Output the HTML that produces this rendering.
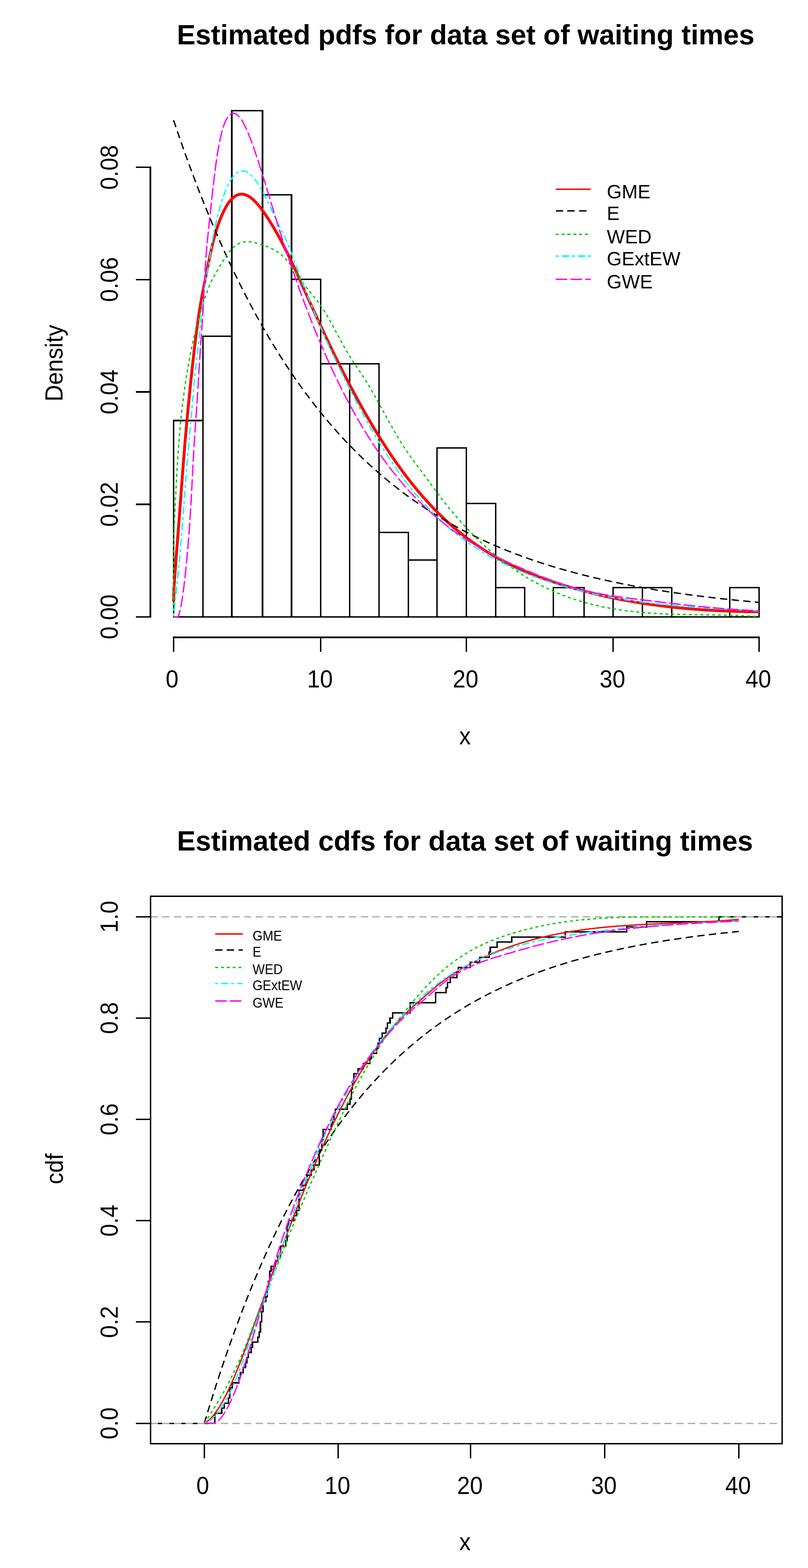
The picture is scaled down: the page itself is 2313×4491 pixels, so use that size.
<!DOCTYPE html>
<html><head><meta charset="utf-8"><title>Estimated pdfs and cdfs for data set of waiting times</title>
<style>html,body{margin:0;padding:0;background:#fff;} svg{display:block;}</style>
</head><body>
<svg width="2313" height="4491" viewBox="0 0 2313 4491">
<rect x="0" y="0" width="2313" height="4491" fill="#ffffff"/>
<text x="1333" y="127" font-family="Liberation Sans, Arial, sans-serif" font-weight="bold" font-size="80" text-anchor="middle" fill="#000">Estimated pdfs for data set of waiting times</text>
<path d="M497.0,1766.7 L497.0,1204.5 L580.6,1204.5 L580.6,1766.7 Z M580.6,1766.7 L580.6,963.0 L663.5,963.0 L663.5,1766.7 Z M663.5,1766.7 L663.5,317.0 L751.5,317.0 L751.5,1766.7 Z M751.5,1766.7 L751.5,558.2 L834.5,558.2 L834.5,1766.7 Z M834.5,1766.7 L834.5,800.0 L918.0,800.0 L918.0,1766.7 Z M918.0,1766.7 L918.0,1042.0 L1001.4,1042.0 L1001.4,1766.7 Z M1001.4,1766.7 L1001.4,1042.0 L1084.8,1042.0 L1084.8,1766.7 Z M1084.8,1766.7 L1084.8,1525.0 L1168.6,1525.0 L1168.6,1766.7 Z M1168.6,1766.7 L1168.6,1604.0 L1250.9,1604.0 L1250.9,1766.7 Z M1250.9,1766.7 L1250.9,1283.0 L1334.7,1283.0 L1334.7,1766.7 Z M1334.7,1766.7 L1334.7,1442.0 L1418.6,1442.0 L1418.6,1766.7 Z M1418.6,1766.7 L1418.6,1683.0 L1501.6,1683.0 L1501.6,1766.7 Z M1501.6,1766.7 L1501.6,1766.7 L1584.4,1766.7 L1584.4,1766.7 Z M1584.4,1766.7 L1584.4,1683.0 L1672.3,1683.0 L1672.3,1766.7 Z M1672.3,1766.7 L1672.3,1766.7 L1755.2,1766.7 L1755.2,1766.7 Z M1755.2,1766.7 L1755.2,1683.0 L1839.1,1683.0 L1839.1,1766.7 Z M1839.1,1766.7 L1839.1,1683.0 L1922.9,1683.0 L1922.9,1766.7 Z M1922.9,1766.7 L1922.9,1766.7 L2006.0,1766.7 L2006.0,1766.7 Z M2006.0,1766.7 L2006.0,1766.7 L2089.3,1766.7 L2089.3,1766.7 Z M2089.3,1766.7 L2089.3,1683.0 L2172.8,1683.0 L2172.8,1766.7 Z" fill="none" stroke="#000" stroke-width="4.18" stroke-linejoin="miter" shape-rendering="crispEdges"/>
<g fill="none" stroke="#000" stroke-width="4.18" stroke-linecap="square" shape-rendering="crispEdges"><path d="M430.5,1766.7 L430.5,479.4"/><path d="M391,1766.7 L430.5,1766.7"/><path d="M391,1444.5 L430.5,1444.5"/><path d="M391,1122.5 L430.5,1122.5"/><path d="M391,800.6 L430.5,800.6"/><path d="M391,479.4 L430.5,479.4"/><path d="M497.0,1825.5 L2172.8,1825.5"/><path d="M497.0,1825.5 L497.0,1865"/><path d="M918.0,1825.5 L918.0,1865"/><path d="M1334.7,1825.5 L1334.7,1865"/><path d="M1755.2,1825.5 L1755.2,1865"/><path d="M2172.8,1825.5 L2172.8,1865"/></g>
<g font-family="Liberation Sans, Arial, sans-serif" font-size="66" fill="#000"><text transform="translate(337,1766.7) rotate(-90) scale(1,1.07)" text-anchor="middle">0.00</text><text transform="translate(337,1444.5) rotate(-90) scale(1,1.07)" text-anchor="middle">0.02</text><text transform="translate(337,1122.5) rotate(-90) scale(1,1.07)" text-anchor="middle">0.04</text><text transform="translate(337,800.6) rotate(-90) scale(1,1.07)" text-anchor="middle">0.06</text><text transform="translate(337,479.4) rotate(-90) scale(1,1.07)" text-anchor="middle">0.08</text><text transform="translate(492.5,1969) scale(1,1.07)" text-anchor="middle">0</text><text transform="translate(916.0,1969) scale(1,1.07)" text-anchor="middle">10</text><text transform="translate(1332.7,1969) scale(1,1.07)" text-anchor="middle">20</text><text transform="translate(1753.2,1969) scale(1,1.07)" text-anchor="middle">30</text><text transform="translate(2170.8,1969) scale(1,1.07)" text-anchor="middle">40</text><text transform="translate(1331,2131.7) scale(1,1.07)" text-anchor="middle">x</text><text transform="translate(179,1040) rotate(-90) scale(1,1.07)" text-anchor="middle">Density</text></g>
<path d="M497.0,1723.3 L497.8,1685.2 L498.7,1673.2 L499.5,1661.3 L500.4,1649.7 L501.2,1638.2 L502.0,1627.0 L502.9,1615.8 L503.7,1604.8 L504.5,1593.9 L505.4,1583.1 L506.2,1572.3 L507.1,1561.6 L507.9,1550.9 L508.7,1540.2 L509.6,1529.5 L510.4,1518.7 L511.2,1507.9 L512.1,1497.0 L512.9,1485.9 L513.8,1474.8 L514.6,1463.7 L515.4,1452.5 L516.3,1441.2 L517.1,1429.9 L518.0,1418.7 L518.8,1407.4 L519.6,1396.1 L520.5,1384.8 L521.3,1373.6 L522.1,1362.5 L526.3,1308.0 L530.5,1256.9 L534.7,1209.3 L538.9,1164.7 L543.1,1122.4 L547.3,1081.8 L551.5,1042.7 L555.7,1005.4 L559.9,970.3 L564.0,937.6 L568.2,907.6 L572.4,880.6 L576.6,856.2 L580.8,833.8 L585.0,812.5 L589.2,791.7 L593.4,770.8 L597.6,749.9 L601.8,729.5 L605.9,710.4 L610.1,692.9 L614.3,676.9 L618.5,662.3 L622.7,649.0 L626.9,637.0 L631.1,625.9 L635.3,615.9 L639.5,606.7 L643.6,598.4 L647.8,590.9 L652.0,584.1 L656.2,578.2 L660.4,573.0 L664.6,568.6 L668.8,564.9 L673.0,561.8 L677.2,559.5 L681.4,557.7 L685.5,556.6 L689.7,556.1 L693.9,556.1 L698.1,556.8 L702.3,557.9 L706.5,559.5 L710.7,561.6 L714.9,564.2 L719.1,567.2 L723.3,570.7 L727.5,574.5 L731.6,578.7 L735.8,583.2 L740.0,588.1 L744.2,593.2 L748.4,598.7 L752.6,604.3 L756.8,610.3 L761.0,616.4 L765.2,622.7 L769.3,629.2 L773.5,635.8 L777.7,642.6 L781.9,649.5 L786.1,656.6 L790.3,663.9 L794.5,671.3 L798.7,678.8 L802.9,686.5 L807.1,694.4 L811.2,702.4 L815.4,710.6 L819.6,718.9 L823.8,727.4 L828.0,736.0 L832.2,744.8 L836.4,753.7 L840.6,762.7 L844.8,771.8 L849.0,781.0 L853.1,790.2 L857.3,799.5 L861.5,808.9 L865.7,818.2 L869.9,827.6 L874.1,836.9 L878.3,846.3 L882.5,855.6 L886.7,864.9 L890.9,874.1 L895.0,883.3 L899.2,892.5 L903.4,901.7 L907.6,910.8 L911.8,919.9 L916.0,929.0 L920.2,938.0 L924.4,947.0 L928.6,955.9 L932.8,964.8 L937.0,973.6 L941.1,982.4 L945.3,991.2 L949.5,999.9 L953.7,1008.5 L957.9,1017.1 L962.1,1025.6 L966.3,1034.0 L970.5,1042.5 L974.7,1050.8 L978.8,1059.1 L983.0,1067.4 L987.2,1075.6 L991.4,1083.7 L995.6,1091.8 L999.8,1099.8 L1004.0,1107.8 L1008.2,1115.7 L1012.4,1123.5 L1016.6,1131.3 L1020.8,1139.0 L1024.9,1146.7 L1029.1,1154.3 L1033.3,1161.9 L1037.5,1169.4 L1041.7,1176.8 L1045.9,1184.2 L1050.1,1191.5 L1054.3,1198.7 L1058.5,1205.9 L1062.7,1213.0 L1066.8,1220.1 L1071.0,1227.1 L1075.2,1234.0 L1079.4,1240.9 L1083.6,1247.7 L1087.8,1254.5 L1092.0,1261.1 L1096.2,1267.8 L1100.4,1274.3 L1104.5,1280.8 L1108.7,1287.2 L1112.9,1293.6 L1117.1,1299.9 L1121.3,1306.1 L1125.5,1312.2 L1129.7,1318.3 L1133.9,1324.3 L1138.1,1330.3 L1142.3,1336.2 L1146.4,1342.0 L1150.6,1347.7 L1154.8,1353.4 L1159.0,1359.0 L1163.2,1364.6 L1167.4,1370.0 L1171.6,1375.5 L1175.8,1380.8 L1180.0,1386.1 L1184.2,1391.3 L1188.3,1396.4 L1192.5,1401.5 L1196.7,1406.5 L1200.9,1411.5 L1205.1,1416.4 L1209.3,1421.2 L1213.5,1426.0 L1217.7,1430.7 L1221.9,1435.3 L1226.1,1439.9 L1230.2,1444.4 L1234.4,1448.9 L1238.6,1453.3 L1242.8,1457.7 L1247.0,1462.0 L1251.2,1466.2 L1255.4,1470.4 L1259.6,1474.5 L1263.8,1478.6 L1268.0,1482.6 L1272.2,1486.5 L1276.3,1490.5 L1280.5,1494.3 L1284.7,1498.1 L1288.9,1501.9 L1293.1,1505.6 L1297.3,1509.2 L1301.5,1512.8 L1305.7,1516.3 L1309.9,1519.8 L1314.0,1523.3 L1318.2,1526.7 L1322.4,1530.0 L1326.6,1533.4 L1330.8,1536.6 L1335.0,1539.8 L1339.2,1543.0 L1343.4,1546.1 L1347.6,1549.2 L1351.8,1552.2 L1355.9,1555.2 L1360.1,1558.2 L1364.3,1561.1 L1368.5,1563.9 L1372.7,1566.7 L1376.9,1569.5 L1381.1,1572.2 L1385.3,1574.9 L1389.5,1577.6 L1393.7,1580.2 L1397.8,1582.8 L1402.0,1585.3 L1406.2,1587.8 L1410.4,1590.3 L1414.6,1592.7 L1418.8,1595.1 L1423.0,1597.5 L1427.2,1599.8 L1431.4,1602.1 L1435.6,1604.4 L1439.8,1606.6 L1443.9,1608.8 L1448.1,1611.0 L1452.3,1613.1 L1456.5,1615.2 L1460.7,1617.2 L1464.9,1619.3 L1469.1,1621.3 L1473.3,1623.3 L1477.5,1625.2 L1481.7,1627.1 L1485.8,1629.0 L1490.0,1630.9 L1494.2,1632.7 L1498.4,1634.6 L1502.6,1636.4 L1506.8,1638.1 L1511.0,1639.9 L1515.2,1641.6 L1519.4,1643.3 L1523.5,1644.9 L1527.7,1646.6 L1531.9,1648.2 L1536.1,1649.8 L1540.3,1651.4 L1544.5,1653.0 L1548.7,1654.5 L1552.9,1656.0 L1557.1,1657.6 L1561.3,1659.0 L1565.5,1660.5 L1569.6,1662.0 L1573.8,1663.4 L1578.0,1664.8 L1582.2,1666.3 L1586.4,1667.6 L1590.6,1669.0 L1594.8,1670.4 L1599.0,1671.7 L1603.2,1673.1 L1607.3,1674.4 L1611.5,1675.7 L1615.7,1677.0 L1619.9,1678.3 L1624.1,1679.6 L1628.3,1680.8 L1632.5,1682.1 L1636.7,1683.3 L1640.9,1684.5 L1645.1,1685.7 L1649.2,1686.9 L1653.4,1688.1 L1657.6,1689.2 L1661.8,1690.4 L1666.0,1691.5 L1670.2,1692.6 L1674.4,1693.7 L1678.6,1694.8 L1682.8,1695.9 L1687.0,1697.0 L1691.1,1698.0 L1695.3,1699.1 L1699.5,1700.1 L1703.7,1701.1 L1707.9,1702.1 L1712.1,1703.1 L1716.3,1704.1 L1720.5,1705.1 L1724.7,1706.0 L1728.9,1707.0 L1733.0,1707.9 L1737.2,1708.8 L1741.4,1709.7 L1745.6,1710.6 L1749.8,1711.5 L1754.0,1712.4 L1758.2,1713.3 L1762.4,1714.1 L1766.6,1715.0 L1770.8,1715.8 L1775.0,1716.6 L1779.1,1717.4 L1783.3,1718.2 L1787.5,1719.0 L1791.7,1719.8 L1795.9,1720.5 L1800.1,1721.3 L1804.3,1722.0 L1808.5,1722.7 L1812.7,1723.5 L1816.8,1724.2 L1821.0,1724.9 L1825.2,1725.5 L1829.4,1726.2 L1833.6,1726.9 L1837.8,1727.5 L1842.0,1728.2 L1846.2,1728.8 L1850.4,1729.4 L1854.6,1730.1 L1858.8,1730.7 L1862.9,1731.3 L1867.1,1731.8 L1871.3,1732.4 L1875.5,1733.0 L1879.7,1733.5 L1883.9,1734.1 L1888.1,1734.6 L1892.3,1735.1 L1896.5,1735.7 L1900.6,1736.2 L1904.8,1736.7 L1909.0,1737.1 L1913.2,1737.6 L1917.4,1738.1 L1921.6,1738.6 L1925.8,1739.0 L1930.0,1739.5 L1934.2,1739.9 L1938.4,1740.3 L1942.5,1740.7 L1946.7,1741.1 L1950.9,1741.5 L1955.1,1741.9 L1959.3,1742.3 L1963.5,1742.7 L1967.7,1743.1 L1971.9,1743.4 L1976.1,1743.8 L1980.3,1744.1 L1984.5,1744.4 L1988.6,1744.8 L1992.8,1745.1 L1997.0,1745.4 L2001.2,1745.7 L2005.4,1746.0 L2009.6,1746.3 L2013.8,1746.6 L2018.0,1746.8 L2022.2,1747.1 L2026.3,1747.4 L2030.5,1747.6 L2034.7,1747.9 L2038.9,1748.1 L2043.1,1748.3 L2047.3,1748.5 L2051.5,1748.8 L2055.7,1749.0 L2059.9,1749.2 L2064.1,1749.4 L2068.2,1749.5 L2072.4,1749.7 L2076.6,1749.9 L2080.8,1750.1 L2085.0,1750.2 L2089.2,1750.4 L2093.4,1750.5 L2097.6,1750.7 L2101.8,1750.8 L2106.0,1750.9 L2110.1,1751.1 L2114.3,1751.2 L2118.5,1751.3 L2122.7,1751.4 L2126.9,1751.5 L2131.1,1751.6 L2135.3,1751.7 L2139.5,1751.8 L2143.7,1751.8 L2147.9,1751.9 L2152.1,1752.0 L2156.2,1752.1 L2160.4,1752.1 L2164.6,1752.2 L2168.8,1752.2 L2173.0,1752.3" fill="none" stroke="#FF0000" stroke-width="8.2" stroke-linejoin="round"/>
<path d="M497.0,344.3 L497.8,346.9 L498.7,349.4 L499.5,351.9 L500.4,354.4 L501.2,356.9 L502.0,359.4 L502.9,361.8 L503.7,364.3 L504.5,366.8 L505.4,369.3 L506.2,371.7 L507.1,374.2 L507.9,376.7 L508.7,379.1 L509.6,381.6 L510.4,384.0 L511.2,386.5 L512.1,388.9 L512.9,391.3 L513.8,393.8 L514.6,396.2 L515.4,398.6 L516.3,401.0 L517.1,403.4 L518.0,405.8 L518.8,408.2 L519.6,410.6 L520.5,413.0 L521.3,415.4 L522.1,417.8 L526.3,429.7 L530.5,441.5 L534.7,453.1 L538.9,464.7 L543.1,476.1 L547.3,487.5 L551.5,498.8 L555.7,509.9 L559.9,521.0 L564.0,531.9 L568.2,542.8 L572.4,553.6 L576.6,564.3 L580.8,574.8 L585.0,585.3 L589.2,595.7 L593.4,606.0 L597.6,616.2 L601.8,626.4 L605.9,636.4 L610.1,646.4 L614.3,656.2 L618.5,666.0 L622.7,675.7 L626.9,685.3 L631.1,694.8 L635.3,704.2 L639.5,713.6 L643.6,722.9 L647.8,732.0 L652.0,741.1 L656.2,750.2 L660.4,759.1 L664.6,768.0 L668.8,776.8 L673.0,785.5 L677.2,794.1 L681.4,802.7 L685.5,811.2 L689.7,819.6 L693.9,827.9 L698.1,836.2 L702.3,844.4 L706.5,852.5 L710.7,860.5 L714.9,868.5 L719.1,876.4 L723.3,884.2 L727.5,892.0 L731.6,899.7 L735.8,907.3 L740.0,914.9 L744.2,922.4 L748.4,929.8 L752.6,937.2 L756.8,944.5 L761.0,951.7 L765.2,958.9 L769.3,966.0 L773.5,973.1 L777.7,980.0 L781.9,987.0 L786.1,993.8 L790.3,1000.6 L794.5,1007.4 L798.7,1014.1 L802.9,1020.7 L807.1,1027.2 L811.2,1033.8 L815.4,1040.2 L819.6,1046.6 L823.8,1052.9 L828.0,1059.2 L832.2,1065.4 L836.4,1071.6 L840.6,1077.7 L844.8,1083.8 L849.0,1089.8 L853.1,1095.8 L857.3,1101.7 L861.5,1107.5 L865.7,1113.3 L869.9,1119.1 L874.1,1124.8 L878.3,1130.4 L882.5,1136.0 L886.7,1141.6 L890.9,1147.1 L895.0,1152.5 L899.2,1157.9 L903.4,1163.3 L907.6,1168.6 L911.8,1173.9 L916.0,1179.1 L920.2,1184.3 L924.4,1189.4 L928.6,1194.5 L932.8,1199.5 L937.0,1204.5 L941.1,1209.4 L945.3,1214.3 L949.5,1219.2 L953.7,1224.0 L957.9,1228.8 L962.1,1233.5 L966.3,1238.2 L970.5,1242.9 L974.7,1247.5 L978.8,1252.1 L983.0,1256.6 L987.2,1261.1 L991.4,1265.5 L995.6,1269.9 L999.8,1274.3 L1004.0,1278.6 L1008.2,1282.9 L1012.4,1287.2 L1016.6,1291.4 L1020.8,1295.6 L1024.9,1299.7 L1029.1,1303.9 L1033.3,1307.9 L1037.5,1312.0 L1041.7,1316.0 L1045.9,1319.9 L1050.1,1323.9 L1054.3,1327.8 L1058.5,1331.6 L1062.7,1335.5 L1066.8,1339.3 L1071.0,1343.0 L1075.2,1346.7 L1079.4,1350.4 L1083.6,1354.1 L1087.8,1357.7 L1092.0,1361.3 L1096.2,1364.9 L1100.4,1368.4 L1104.5,1371.9 L1108.7,1375.4 L1112.9,1378.9 L1117.1,1382.3 L1121.3,1385.7 L1125.5,1389.0 L1129.7,1392.3 L1133.9,1395.6 L1138.1,1398.9 L1142.3,1402.1 L1146.4,1405.3 L1150.6,1408.5 L1154.8,1411.7 L1159.0,1414.8 L1163.2,1417.9 L1167.4,1421.0 L1171.6,1424.0 L1175.8,1427.0 L1180.0,1430.0 L1184.2,1433.0 L1188.3,1435.9 L1192.5,1438.8 L1196.7,1441.7 L1200.9,1444.6 L1205.1,1447.4 L1209.3,1450.2 L1213.5,1453.0 L1217.7,1455.8 L1221.9,1458.5 L1226.1,1461.2 L1230.2,1463.9 L1234.4,1466.6 L1238.6,1469.2 L1242.8,1471.8 L1247.0,1474.4 L1251.2,1477.0 L1255.4,1479.5 L1259.6,1482.1 L1263.8,1484.6 L1268.0,1487.1 L1272.2,1489.5 L1276.3,1492.0 L1280.5,1494.4 L1284.7,1496.8 L1288.9,1499.1 L1293.1,1501.5 L1297.3,1503.8 L1301.5,1506.2 L1305.7,1508.4 L1309.9,1510.7 L1314.0,1513.0 L1318.2,1515.2 L1322.4,1517.4 L1326.6,1519.6 L1330.8,1521.8 L1335.0,1523.9 L1339.2,1526.1 L1343.4,1528.2 L1347.6,1530.3 L1351.8,1532.4 L1355.9,1534.4 L1360.1,1536.5 L1364.3,1538.5 L1368.5,1540.5 L1372.7,1542.5 L1376.9,1544.5 L1381.1,1546.4 L1385.3,1548.4 L1389.5,1550.3 L1393.7,1552.2 L1397.8,1554.1 L1402.0,1556.0 L1406.2,1557.8 L1410.4,1559.7 L1414.6,1561.5 L1418.8,1563.3 L1423.0,1565.1 L1427.2,1566.8 L1431.4,1568.6 L1435.6,1570.3 L1439.8,1572.1 L1443.9,1573.8 L1448.1,1575.5 L1452.3,1577.2 L1456.5,1578.8 L1460.7,1580.5 L1464.9,1582.1 L1469.1,1583.8 L1473.3,1585.4 L1477.5,1587.0 L1481.7,1588.5 L1485.8,1590.1 L1490.0,1591.7 L1494.2,1593.2 L1498.4,1594.7 L1502.6,1596.2 L1506.8,1597.7 L1511.0,1599.2 L1515.2,1600.7 L1519.4,1602.2 L1523.5,1603.6 L1527.7,1605.1 L1531.9,1606.5 L1536.1,1607.9 L1540.3,1609.3 L1544.5,1610.7 L1548.7,1612.0 L1552.9,1613.4 L1557.1,1614.8 L1561.3,1616.1 L1565.5,1617.4 L1569.6,1618.7 L1573.8,1620.0 L1578.0,1621.3 L1582.2,1622.6 L1586.4,1623.9 L1590.6,1625.1 L1594.8,1626.4 L1599.0,1627.6 L1603.2,1628.8 L1607.3,1630.0 L1611.5,1631.2 L1615.7,1632.4 L1619.9,1633.6 L1624.1,1634.8 L1628.3,1636.0 L1632.5,1637.1 L1636.7,1638.2 L1640.9,1639.4 L1645.1,1640.5 L1649.2,1641.6 L1653.4,1642.7 L1657.6,1643.8 L1661.8,1644.9 L1666.0,1646.0 L1670.2,1647.0 L1674.4,1648.1 L1678.6,1649.1 L1682.8,1650.1 L1687.0,1651.2 L1691.1,1652.2 L1695.3,1653.2 L1699.5,1654.2 L1703.7,1655.2 L1707.9,1656.2 L1712.1,1657.1 L1716.3,1658.1 L1720.5,1659.1 L1724.7,1660.0 L1728.9,1660.9 L1733.0,1661.9 L1737.2,1662.8 L1741.4,1663.7 L1745.6,1664.6 L1749.8,1665.5 L1754.0,1666.4 L1758.2,1667.3 L1762.4,1668.2 L1766.6,1669.0 L1770.8,1669.9 L1775.0,1670.7 L1779.1,1671.6 L1783.3,1672.4 L1787.5,1673.3 L1791.7,1674.1 L1795.9,1674.9 L1800.1,1675.7 L1804.3,1676.5 L1808.5,1677.3 L1812.7,1678.1 L1816.8,1678.9 L1821.0,1679.6 L1825.2,1680.4 L1829.4,1681.2 L1833.6,1681.9 L1837.8,1682.7 L1842.0,1683.4 L1846.2,1684.1 L1850.4,1684.9 L1854.6,1685.6 L1858.8,1686.3 L1862.9,1687.0 L1867.1,1687.7 L1871.3,1688.4 L1875.5,1689.1 L1879.7,1689.8 L1883.9,1690.4 L1888.1,1691.1 L1892.3,1691.8 L1896.5,1692.4 L1900.6,1693.1 L1904.8,1693.7 L1909.0,1694.4 L1913.2,1695.0 L1917.4,1695.7 L1921.6,1696.3 L1925.8,1696.9 L1930.0,1697.5 L1934.2,1698.1 L1938.4,1698.7 L1942.5,1699.3 L1946.7,1699.9 L1950.9,1700.5 L1955.1,1701.1 L1959.3,1701.7 L1963.5,1702.2 L1967.7,1702.8 L1971.9,1703.4 L1976.1,1703.9 L1980.3,1704.5 L1984.5,1705.0 L1988.6,1705.6 L1992.8,1706.1 L1997.0,1706.6 L2001.2,1707.2 L2005.4,1707.7 L2009.6,1708.2 L2013.8,1708.7 L2018.0,1709.2 L2022.2,1709.7 L2026.3,1710.2 L2030.5,1710.7 L2034.7,1711.2 L2038.9,1711.7 L2043.1,1712.2 L2047.3,1712.7 L2051.5,1713.2 L2055.7,1713.6 L2059.9,1714.1 L2064.1,1714.6 L2068.2,1715.0 L2072.4,1715.5 L2076.6,1715.9 L2080.8,1716.4 L2085.0,1716.8 L2089.2,1717.3 L2093.4,1717.7 L2097.6,1718.1 L2101.8,1718.5 L2106.0,1719.0 L2110.1,1719.4 L2114.3,1719.8 L2118.5,1720.2 L2122.7,1720.6 L2126.9,1721.0 L2131.1,1721.4 L2135.3,1721.8 L2139.5,1722.2 L2143.7,1722.6 L2147.9,1723.0 L2152.1,1723.4 L2156.2,1723.8 L2160.4,1724.2 L2164.6,1724.5 L2168.8,1724.9 L2173.0,1725.3" fill="none" stroke="#000000" stroke-width="3.8" stroke-dasharray="20.90 12.54" stroke-linejoin="round"/>
<path d="M497.0,1766.7 L497.8,1530.7 L498.7,1510.3 L499.5,1490.6 L500.4,1471.5 L501.2,1453.2 L502.0,1435.5 L502.9,1418.5 L503.7,1402.1 L504.5,1386.3 L505.4,1371.0 L506.2,1356.4 L507.1,1342.3 L507.9,1328.7 L508.7,1315.6 L509.6,1303.1 L510.4,1291.0 L511.2,1279.4 L512.1,1268.2 L512.9,1257.4 L513.8,1247.1 L514.6,1237.1 L515.4,1227.6 L516.3,1218.3 L517.1,1209.5 L518.0,1200.9 L518.8,1192.6 L519.6,1184.7 L520.5,1176.9 L521.3,1169.5 L522.1,1162.3 L526.3,1129.0 L530.5,1099.2 L534.7,1072.1 L538.9,1047.1 L543.1,1024.0 L547.3,1002.4 L551.5,982.3 L555.7,963.5 L559.9,945.9 L564.0,929.4 L568.2,913.9 L572.4,899.1 L576.6,885.1 L580.8,871.7 L585.0,858.8 L589.2,846.4 L593.4,834.3 L597.6,822.9 L601.8,812.7 L605.9,803.8 L610.1,795.8 L614.3,788.5 L618.5,781.4 L622.7,774.2 L626.9,767.0 L631.1,759.8 L635.3,752.8 L639.5,746.0 L643.6,739.3 L647.8,733.0 L652.0,727.1 L656.2,721.5 L660.4,716.4 L664.6,711.9 L668.8,707.9 L673.0,704.4 L677.2,701.4 L681.4,698.9 L685.5,696.8 L689.7,695.1 L693.9,693.9 L698.1,693.0 L702.3,692.4 L706.5,692.2 L710.7,692.2 L714.9,692.5 L719.1,693.0 L723.3,693.7 L727.5,694.6 L731.6,695.6 L735.8,696.8 L740.0,698.0 L744.2,699.3 L748.4,700.7 L752.6,702.0 L756.8,703.5 L761.0,704.9 L765.2,706.5 L769.3,708.2 L773.5,710.0 L777.7,712.0 L781.9,714.1 L786.1,716.4 L790.3,718.9 L794.5,721.7 L798.7,724.6 L802.9,727.9 L807.1,731.5 L811.2,735.3 L815.4,739.5 L819.6,744.1 L823.8,749.0 L828.0,754.2 L832.2,759.7 L836.4,765.4 L840.6,771.3 L844.8,777.3 L849.0,783.4 L853.1,789.6 L857.3,795.7 L861.5,801.8 L865.7,807.8 L869.9,813.7 L874.1,819.4 L878.3,824.8 L882.5,830.1 L886.7,835.2 L890.9,840.3 L895.0,845.3 L899.2,850.4 L903.4,855.6 L907.6,860.9 L911.8,866.4 L916.0,872.1 L920.2,878.2 L924.4,884.5 L928.6,891.2 L932.8,898.1 L937.0,905.2 L941.1,912.5 L945.3,920.0 L949.5,927.6 L953.7,935.3 L957.9,943.1 L962.1,950.9 L966.3,958.7 L970.5,966.5 L974.7,974.3 L978.8,982.0 L983.0,989.6 L987.2,997.0 L991.4,1004.3 L995.6,1011.4 L999.8,1018.2 L1004.0,1024.9 L1008.2,1031.4 L1012.4,1037.7 L1016.6,1043.9 L1020.8,1050.1 L1024.9,1056.3 L1029.1,1062.5 L1033.3,1068.8 L1037.5,1075.1 L1041.7,1081.7 L1045.9,1088.3 L1050.1,1095.2 L1054.3,1102.1 L1058.5,1109.2 L1062.7,1116.4 L1066.8,1123.6 L1071.0,1131.0 L1075.2,1138.4 L1079.4,1145.9 L1083.6,1153.5 L1087.8,1161.1 L1092.0,1168.7 L1096.2,1176.3 L1100.4,1183.9 L1104.5,1191.6 L1108.7,1199.2 L1112.9,1206.7 L1117.1,1214.2 L1121.3,1221.7 L1125.5,1229.1 L1129.7,1236.4 L1133.9,1243.6 L1138.1,1250.8 L1142.3,1257.8 L1146.4,1264.7 L1150.6,1271.4 L1154.8,1278.0 L1159.0,1284.4 L1163.2,1290.7 L1167.4,1296.8 L1171.6,1302.8 L1175.8,1308.7 L1180.0,1314.5 L1184.2,1320.3 L1188.3,1325.9 L1192.5,1331.6 L1196.7,1337.1 L1200.9,1342.7 L1205.1,1348.3 L1209.3,1353.9 L1213.5,1359.5 L1217.7,1365.2 L1221.9,1371.0 L1226.1,1376.7 L1230.2,1382.5 L1234.4,1388.3 L1238.6,1394.0 L1242.8,1399.7 L1247.0,1405.4 L1251.2,1411.1 L1255.4,1416.7 L1259.6,1422.2 L1263.8,1427.6 L1268.0,1433.0 L1272.2,1438.4 L1276.3,1443.7 L1280.5,1448.9 L1284.7,1454.1 L1288.9,1459.2 L1293.1,1464.2 L1297.3,1469.2 L1301.5,1474.2 L1305.7,1479.1 L1309.9,1483.9 L1314.0,1488.6 L1318.2,1493.4 L1322.4,1498.0 L1326.6,1502.6 L1330.8,1507.2 L1335.0,1511.7 L1339.2,1516.1 L1343.4,1520.5 L1347.6,1524.8 L1351.8,1529.1 L1355.9,1533.3 L1360.1,1537.5 L1364.3,1541.6 L1368.5,1545.7 L1372.7,1549.7 L1376.9,1553.7 L1381.1,1557.6 L1385.3,1561.5 L1389.5,1565.3 L1393.7,1569.1 L1397.8,1572.8 L1402.0,1576.5 L1406.2,1580.1 L1410.4,1583.7 L1414.6,1587.2 L1418.8,1590.7 L1423.0,1594.1 L1427.2,1597.5 L1431.4,1600.8 L1435.6,1604.1 L1439.8,1607.3 L1443.9,1610.5 L1448.1,1613.7 L1452.3,1616.8 L1456.5,1619.9 L1460.7,1622.9 L1464.9,1625.9 L1469.1,1628.8 L1473.3,1631.7 L1477.5,1634.5 L1481.7,1637.3 L1485.8,1640.1 L1490.0,1642.8 L1494.2,1645.5 L1498.4,1648.1 L1502.6,1650.7 L1506.8,1653.2 L1511.0,1655.8 L1515.2,1658.2 L1519.4,1660.7 L1523.5,1663.0 L1527.7,1665.4 L1531.9,1667.7 L1536.1,1670.0 L1540.3,1672.2 L1544.5,1674.4 L1548.7,1676.6 L1552.9,1678.7 L1557.1,1680.8 L1561.3,1682.9 L1565.5,1684.9 L1569.6,1686.8 L1573.8,1688.8 L1578.0,1690.7 L1582.2,1692.6 L1586.4,1694.4 L1590.6,1696.2 L1594.8,1698.0 L1599.0,1699.7 L1603.2,1701.4 L1607.3,1703.1 L1611.5,1704.7 L1615.7,1706.3 L1619.9,1707.9 L1624.1,1709.5 L1628.3,1711.0 L1632.5,1712.5 L1636.7,1713.9 L1640.9,1715.3 L1645.1,1716.7 L1649.2,1718.1 L1653.4,1719.4 L1657.6,1720.7 L1661.8,1722.0 L1666.0,1723.2 L1670.2,1724.5 L1674.4,1725.7 L1678.6,1726.8 L1682.8,1728.0 L1687.0,1729.1 L1691.1,1730.1 L1695.3,1731.2 L1699.5,1732.2 L1703.7,1733.2 L1707.9,1734.2 L1712.1,1735.2 L1716.3,1736.1 L1720.5,1737.0 L1724.7,1737.9 L1728.9,1738.8 L1733.0,1739.6 L1737.2,1740.4 L1741.4,1741.2 L1745.6,1742.0 L1749.8,1742.8 L1754.0,1743.5 L1758.2,1744.2 L1762.4,1744.9 L1766.6,1745.6 L1770.8,1746.2 L1775.0,1746.8 L1779.1,1747.4 L1783.3,1748.0 L1787.5,1748.6 L1791.7,1749.2 L1795.9,1749.7 L1800.1,1750.2 L1804.3,1750.7 L1808.5,1751.2 L1812.7,1751.7 L1816.8,1752.1 L1821.0,1752.6 L1825.2,1753.0 L1829.4,1753.4 L1833.6,1753.8 L1837.8,1754.1 L1842.0,1754.5 L1846.2,1754.8 L1850.4,1755.2 L1854.6,1755.5 L1858.8,1755.8 L1862.9,1756.1 L1867.1,1756.4 L1871.3,1756.7 L1875.5,1756.9 L1879.7,1757.2 L1883.9,1757.4 L1888.1,1757.6 L1892.3,1757.8 L1896.5,1758.0 L1900.6,1758.2 L1904.8,1758.4 L1909.0,1758.6 L1913.2,1758.8 L1917.4,1758.9 L1921.6,1759.1 L1925.8,1759.2 L1930.0,1759.3 L1934.2,1759.5 L1938.4,1759.6 L1942.5,1759.7 L1946.7,1759.8 L1950.9,1759.9 L1955.1,1760.0 L1959.3,1760.1 L1963.5,1760.2 L1967.7,1760.3 L1971.9,1760.4 L1976.1,1760.5 L1980.3,1760.5 L1984.5,1760.6 L1988.6,1760.7 L1992.8,1760.7 L1997.0,1760.8 L2001.2,1760.9 L2005.4,1760.9 L2009.6,1761.0 L2013.8,1761.0 L2018.0,1761.1 L2022.2,1761.1 L2026.3,1761.2 L2030.5,1761.3 L2034.7,1761.3 L2038.9,1761.4 L2043.1,1761.4 L2047.3,1761.5 L2051.5,1761.6 L2055.7,1761.6 L2059.9,1761.7 L2064.1,1761.8 L2068.2,1761.9 L2072.4,1761.9 L2076.6,1762.0 L2080.8,1762.1 L2085.0,1762.2 L2089.2,1762.3 L2093.4,1762.4 L2097.6,1762.5 L2101.8,1762.7 L2106.0,1762.8 L2110.1,1762.9 L2114.3,1763.1 L2118.5,1763.2 L2122.7,1763.4 L2126.9,1763.5 L2131.1,1763.7 L2135.3,1763.9 L2139.5,1764.1 L2143.7,1764.3 L2147.9,1764.5 L2152.1,1764.7 L2156.2,1764.9 L2160.4,1765.2 L2164.6,1765.4 L2168.8,1765.7 L2173.0,1765.9" fill="none" stroke="#00CD00" stroke-width="3.8" stroke-dasharray="8.36 8.36" stroke-linejoin="round"/>
<path d="M497.0,1764.0 L497.8,1755.9 L498.7,1747.8 L499.5,1739.8 L500.4,1731.9 L501.2,1724.1 L502.0,1716.2 L502.9,1708.4 L503.7,1700.7 L504.5,1692.9 L505.4,1685.1 L506.2,1677.2 L507.1,1669.3 L507.9,1661.4 L508.7,1653.4 L509.6,1645.2 L510.4,1637.0 L511.2,1628.6 L512.1,1620.2 L512.9,1611.5 L513.8,1602.7 L514.6,1593.7 L515.4,1584.5 L516.3,1575.2 L517.1,1565.5 L518.0,1555.7 L518.8,1545.6 L519.6,1535.3 L520.5,1524.7 L521.3,1514.0 L522.1,1503.1 L526.3,1447.2 L530.5,1390.6 L534.7,1336.5 L538.9,1286.8 L543.1,1240.3 L547.3,1194.7 L551.5,1148.1 L555.7,1099.9 L559.9,1055.5 L564.0,1019.3 L568.2,984.2 L572.4,943.6 L576.6,901.4 L580.8,862.3 L585.0,828.1 L589.2,799.6 L593.4,777.4 L597.6,757.8 L601.8,732.3 L605.9,704.0 L610.1,678.3 L614.3,656.5 L618.5,637.6 L622.7,620.2 L626.9,604.1 L631.1,589.1 L635.3,575.3 L639.5,562.7 L643.6,551.1 L647.8,540.7 L652.0,531.3 L656.2,522.9 L660.4,515.5 L664.6,509.1 L668.8,503.7 L673.0,499.2 L677.2,495.5 L681.4,492.7 L685.5,490.8 L689.7,489.6 L693.9,489.3 L698.1,489.7 L702.3,490.8 L706.5,492.6 L710.7,495.1 L714.9,498.2 L719.1,501.9 L723.3,506.2 L727.5,511.1 L731.6,516.5 L735.8,522.4 L740.0,528.8 L744.2,535.7 L748.4,542.9 L752.6,550.6 L756.8,558.6 L761.0,566.8 L765.2,575.3 L769.3,584.0 L773.5,592.8 L777.7,601.7 L781.9,610.7 L786.1,619.6 L790.3,628.4 L794.5,637.2 L798.7,645.8 L802.9,654.1 L807.1,662.4 L811.2,670.7 L815.4,679.3 L819.6,688.4 L823.8,698.0 L828.0,708.4 L832.2,719.4 L836.4,730.7 L840.6,742.0 L844.8,753.3 L849.0,764.5 L853.1,775.7 L857.3,786.9 L861.5,798.0 L865.7,809.0 L869.9,820.0 L874.1,830.8 L878.3,841.5 L882.5,852.1 L886.7,862.6 L890.9,873.0 L895.0,883.3 L899.2,893.4 L903.4,903.5 L907.6,913.4 L911.8,923.3 L916.0,933.1 L920.2,942.7 L924.4,952.3 L928.6,961.8 L932.8,971.2 L937.0,980.5 L941.1,989.7 L945.3,998.8 L949.5,1007.9 L953.7,1016.9 L957.9,1025.8 L962.1,1034.6 L966.3,1043.4 L970.5,1052.0 L974.7,1060.7 L978.8,1069.2 L983.0,1077.7 L987.2,1086.2 L991.4,1094.5 L995.6,1102.9 L999.8,1111.1 L1004.0,1119.3 L1008.2,1127.5 L1012.4,1135.6 L1016.6,1143.7 L1020.8,1151.7 L1024.9,1159.6 L1029.1,1167.5 L1033.3,1175.3 L1037.5,1183.1 L1041.7,1190.8 L1045.9,1198.4 L1050.1,1206.0 L1054.3,1213.5 L1058.5,1220.9 L1062.7,1228.2 L1066.8,1235.5 L1071.0,1242.8 L1075.2,1249.9 L1079.4,1257.0 L1083.6,1264.0 L1087.8,1270.9 L1092.0,1277.7 L1096.2,1284.5 L1100.4,1291.2 L1104.5,1297.8 L1108.7,1304.3 L1112.9,1310.7 L1117.1,1317.0 L1121.3,1323.3 L1125.5,1329.5 L1129.7,1335.6 L1133.9,1341.6 L1138.1,1347.6 L1142.3,1353.4 L1146.4,1359.2 L1150.6,1365.0 L1154.8,1370.6 L1159.0,1376.2 L1163.2,1381.7 L1167.4,1387.1 L1171.6,1392.4 L1175.8,1397.7 L1180.0,1402.9 L1184.2,1408.0 L1188.3,1413.1 L1192.5,1418.1 L1196.7,1423.0 L1200.9,1427.9 L1205.1,1432.6 L1209.3,1437.4 L1213.5,1442.0 L1217.7,1446.6 L1221.9,1451.1 L1226.1,1455.6 L1230.2,1460.0 L1234.4,1464.3 L1238.6,1468.6 L1242.8,1472.8 L1247.0,1476.9 L1251.2,1481.0 L1255.4,1485.0 L1259.6,1489.0 L1263.8,1492.9 L1268.0,1496.8 L1272.2,1500.6 L1276.3,1504.3 L1280.5,1508.0 L1284.7,1511.6 L1288.9,1515.2 L1293.1,1518.7 L1297.3,1522.2 L1301.5,1525.6 L1305.7,1528.9 L1309.9,1532.2 L1314.0,1535.5 L1318.2,1538.7 L1322.4,1541.9 L1326.6,1545.0 L1330.8,1548.1 L1335.0,1551.1 L1339.2,1554.1 L1343.4,1557.0 L1347.6,1559.9 L1351.8,1562.7 L1355.9,1565.5 L1360.1,1568.2 L1364.3,1571.0 L1368.5,1573.6 L1372.7,1576.3 L1376.9,1578.8 L1381.1,1581.4 L1385.3,1583.9 L1389.5,1586.4 L1393.7,1588.8 L1397.8,1591.2 L1402.0,1593.6 L1406.2,1595.9 L1410.4,1598.2 L1414.6,1600.4 L1418.8,1602.6 L1423.0,1604.8 L1427.2,1607.0 L1431.4,1609.1 L1435.6,1611.2 L1439.8,1613.3 L1443.9,1615.3 L1448.1,1617.3 L1452.3,1619.3 L1456.5,1621.2 L1460.7,1623.2 L1464.9,1625.1 L1469.1,1626.9 L1473.3,1628.8 L1477.5,1630.6 L1481.7,1632.4 L1485.8,1634.2 L1490.0,1635.9 L1494.2,1637.7 L1498.4,1639.4 L1502.6,1641.1 L1506.8,1642.7 L1511.0,1644.4 L1515.2,1646.0 L1519.4,1647.6 L1523.5,1649.2 L1527.7,1650.8 L1531.9,1652.4 L1536.1,1653.9 L1540.3,1655.4 L1544.5,1656.9 L1548.7,1658.4 L1552.9,1659.9 L1557.1,1661.3 L1561.3,1662.8 L1565.5,1664.2 L1569.6,1665.6 L1573.8,1667.0 L1578.0,1668.3 L1582.2,1669.7 L1586.4,1671.0 L1590.6,1672.3 L1594.8,1673.6 L1599.0,1674.9 L1603.2,1676.1 L1607.3,1677.4 L1611.5,1678.6 L1615.7,1679.8 L1619.9,1681.0 L1624.1,1682.2 L1628.3,1683.4 L1632.5,1684.5 L1636.7,1685.7 L1640.9,1686.8 L1645.1,1687.9 L1649.2,1689.0 L1653.4,1690.0 L1657.6,1691.1 L1661.8,1692.1 L1666.0,1693.2 L1670.2,1694.2 L1674.4,1695.2 L1678.6,1696.2 L1682.8,1697.2 L1687.0,1698.1 L1691.1,1699.1 L1695.3,1700.0 L1699.5,1700.9 L1703.7,1701.8 L1707.9,1702.7 L1712.1,1703.6 L1716.3,1704.4 L1720.5,1705.3 L1724.7,1706.1 L1728.9,1707.0 L1733.0,1707.8 L1737.2,1708.6 L1741.4,1709.4 L1745.6,1710.2 L1749.8,1710.9 L1754.0,1711.7 L1758.2,1712.4 L1762.4,1713.2 L1766.6,1713.9 L1770.8,1714.6 L1775.0,1715.3 L1779.1,1716.0 L1783.3,1716.6 L1787.5,1717.3 L1791.7,1718.0 L1795.9,1718.6 L1800.1,1719.2 L1804.3,1719.9 L1808.5,1720.5 L1812.7,1721.1 L1816.8,1721.7 L1821.0,1722.3 L1825.2,1722.8 L1829.4,1723.4 L1833.6,1724.0 L1837.8,1724.5 L1842.0,1725.1 L1846.2,1725.6 L1850.4,1726.1 L1854.6,1726.6 L1858.8,1727.1 L1862.9,1727.6 L1867.1,1728.1 L1871.3,1728.6 L1875.5,1729.0 L1879.7,1729.5 L1883.9,1730.0 L1888.1,1730.4 L1892.3,1730.9 L1896.5,1731.3 L1900.6,1731.7 L1904.8,1732.1 L1909.0,1732.5 L1913.2,1732.9 L1917.4,1733.3 L1921.6,1733.7 L1925.8,1734.1 L1930.0,1734.5 L1934.2,1734.9 L1938.4,1735.2 L1942.5,1735.6 L1946.7,1735.9 L1950.9,1736.3 L1955.1,1736.6 L1959.3,1737.0 L1963.5,1737.3 L1967.7,1737.6 L1971.9,1738.0 L1976.1,1738.3 L1980.3,1738.6 L1984.5,1738.9 L1988.6,1739.2 L1992.8,1739.5 L1997.0,1739.8 L2001.2,1740.1 L2005.4,1740.4 L2009.6,1740.7 L2013.8,1740.9 L2018.0,1741.2 L2022.2,1741.5 L2026.3,1741.8 L2030.5,1742.0 L2034.7,1742.3 L2038.9,1742.5 L2043.1,1742.8 L2047.3,1743.1 L2051.5,1743.3 L2055.7,1743.6 L2059.9,1743.8 L2064.1,1744.1 L2068.2,1744.3 L2072.4,1744.5 L2076.6,1744.8 L2080.8,1745.0 L2085.0,1745.3 L2089.2,1745.5 L2093.4,1745.7 L2097.6,1746.0 L2101.8,1746.2 L2106.0,1746.4 L2110.1,1746.6 L2114.3,1746.9 L2118.5,1747.1 L2122.7,1747.3 L2126.9,1747.6 L2131.1,1747.8 L2135.3,1748.0 L2139.5,1748.3 L2143.7,1748.5 L2147.9,1748.7 L2152.1,1748.9 L2156.2,1749.2 L2160.4,1749.4 L2164.6,1749.6 L2168.8,1749.9 L2173.0,1750.1" fill="none" stroke="#00FFFF" stroke-width="3.8" stroke-dasharray="8.36 8.36 20.90 8.36" stroke-linejoin="round"/>
<path d="M497.0,1766.7 L497.8,1766.7 L498.7,1766.7 L499.5,1766.7 L500.4,1766.7 L501.2,1766.7 L502.0,1766.7 L502.9,1766.7 L503.7,1766.7 L504.5,1766.7 L505.4,1766.7 L506.2,1766.7 L507.1,1766.7 L507.9,1766.7 L508.7,1766.7 L509.6,1766.7 L510.4,1764.8 L511.2,1762.6 L512.1,1760.1 L512.9,1757.4 L513.8,1754.4 L514.6,1751.2 L515.4,1747.8 L516.3,1744.1 L517.1,1740.1 L518.0,1735.9 L518.8,1731.5 L519.6,1726.9 L520.5,1722.0 L521.3,1716.8 L522.1,1711.5 L526.3,1681.1 L530.5,1645.0 L534.7,1603.2 L538.9,1555.3 L543.1,1499.2 L547.3,1432.0 L551.5,1351.9 L555.7,1272.2 L559.9,1210.8 L564.0,1153.5 L568.2,1085.8 L572.4,1017.1 L576.6,957.5 L580.8,897.2 L585.0,814.9 L589.2,740.9 L593.4,692.7 L597.6,651.5 L601.8,611.6 L605.9,572.4 L610.1,534.7 L614.3,499.4 L618.5,467.3 L622.7,439.1 L626.9,414.8 L631.1,394.2 L635.3,376.9 L639.5,362.7 L643.6,351.3 L647.8,342.2 L652.0,335.3 L656.2,330.3 L660.4,326.9 L664.6,324.9 L668.8,324.4 L673.0,325.3 L677.2,327.4 L681.4,330.8 L685.5,335.2 L689.7,340.8 L693.9,347.3 L698.1,354.8 L702.3,363.1 L706.5,372.2 L710.7,382.0 L714.9,392.5 L719.1,403.5 L723.3,414.9 L727.5,426.8 L731.6,439.1 L735.8,451.6 L740.0,464.4 L744.2,477.5 L748.4,490.7 L752.6,504.1 L756.8,517.6 L761.0,531.3 L765.2,545.0 L769.3,558.8 L773.5,572.6 L777.7,586.5 L781.9,600.2 L786.1,614.0 L790.3,627.6 L794.5,641.1 L798.7,654.5 L802.9,667.8 L807.1,680.9 L811.2,694.0 L815.4,706.9 L819.6,719.7 L823.8,732.3 L828.0,744.9 L832.2,757.3 L836.4,769.6 L840.6,781.8 L844.8,793.8 L849.0,805.8 L853.1,817.6 L857.3,829.2 L861.5,840.8 L865.7,852.2 L869.9,863.5 L874.1,874.7 L878.3,885.8 L882.5,896.7 L886.7,907.5 L890.9,918.2 L895.0,928.8 L899.2,939.2 L903.4,949.5 L907.6,959.7 L911.8,969.8 L916.0,979.8 L920.2,989.7 L924.4,999.4 L928.6,1009.0 L932.8,1018.6 L937.0,1028.0 L941.1,1037.3 L945.3,1046.5 L949.5,1055.5 L953.7,1064.5 L957.9,1073.4 L962.1,1082.2 L966.3,1090.8 L970.5,1099.4 L974.7,1107.9 L978.8,1116.2 L983.0,1124.5 L987.2,1132.7 L991.4,1140.7 L995.6,1148.7 L999.8,1156.6 L1004.0,1164.4 L1008.2,1172.1 L1012.4,1179.7 L1016.6,1187.2 L1020.8,1194.6 L1024.9,1201.9 L1029.1,1209.1 L1033.3,1216.3 L1037.5,1223.3 L1041.7,1230.3 L1045.9,1237.1 L1050.1,1243.9 L1054.3,1250.6 L1058.5,1257.3 L1062.7,1263.8 L1066.8,1270.2 L1071.0,1276.6 L1075.2,1282.9 L1079.4,1289.1 L1083.6,1295.2 L1087.8,1301.2 L1092.0,1307.2 L1096.2,1313.1 L1100.4,1318.9 L1104.5,1324.6 L1108.7,1330.3 L1112.9,1335.9 L1117.1,1341.4 L1121.3,1346.8 L1125.5,1352.1 L1129.7,1357.4 L1133.9,1362.6 L1138.1,1367.8 L1142.3,1372.9 L1146.4,1377.9 L1150.6,1382.8 L1154.8,1387.7 L1159.0,1392.5 L1163.2,1397.2 L1167.4,1401.9 L1171.6,1406.5 L1175.8,1411.1 L1180.0,1415.6 L1184.2,1420.0 L1188.3,1424.4 L1192.5,1428.7 L1196.7,1432.9 L1200.9,1437.1 L1205.1,1441.3 L1209.3,1445.3 L1213.5,1449.4 L1217.7,1453.3 L1221.9,1457.2 L1226.1,1461.1 L1230.2,1464.9 L1234.4,1468.7 L1238.6,1472.4 L1242.8,1476.0 L1247.0,1479.6 L1251.2,1483.2 L1255.4,1486.7 L1259.6,1490.2 L1263.8,1493.6 L1268.0,1497.0 L1272.2,1500.3 L1276.3,1503.6 L1280.5,1506.8 L1284.7,1510.0 L1288.9,1513.2 L1293.1,1516.3 L1297.3,1519.4 L1301.5,1522.4 L1305.7,1525.4 L1309.9,1528.3 L1314.0,1531.2 L1318.2,1534.1 L1322.4,1537.0 L1326.6,1539.8 L1330.8,1542.5 L1335.0,1545.2 L1339.2,1547.9 L1343.4,1550.6 L1347.6,1553.2 L1351.8,1555.8 L1355.9,1558.4 L1360.1,1560.9 L1364.3,1563.4 L1368.5,1565.8 L1372.7,1568.3 L1376.9,1570.7 L1381.1,1573.1 L1385.3,1575.4 L1389.5,1577.7 L1393.7,1580.0 L1397.8,1582.3 L1402.0,1584.5 L1406.2,1586.7 L1410.4,1588.9 L1414.6,1591.1 L1418.8,1593.2 L1423.0,1595.3 L1427.2,1597.4 L1431.4,1599.5 L1435.6,1601.5 L1439.8,1603.5 L1443.9,1605.5 L1448.1,1607.5 L1452.3,1609.5 L1456.5,1611.4 L1460.7,1613.4 L1464.9,1615.3 L1469.1,1617.2 L1473.3,1619.1 L1477.5,1620.9 L1481.7,1622.8 L1485.8,1624.6 L1490.0,1626.5 L1494.2,1628.3 L1498.4,1630.1 L1502.6,1631.9 L1506.8,1633.6 L1511.0,1635.4 L1515.2,1637.1 L1519.4,1638.9 L1523.5,1640.6 L1527.7,1642.3 L1531.9,1644.0 L1536.1,1645.7 L1540.3,1647.4 L1544.5,1649.1 L1548.7,1650.7 L1552.9,1652.3 L1557.1,1653.9 L1561.3,1655.5 L1565.5,1657.1 L1569.6,1658.7 L1573.8,1660.2 L1578.0,1661.8 L1582.2,1663.3 L1586.4,1664.8 L1590.6,1666.2 L1594.8,1667.7 L1599.0,1669.1 L1603.2,1670.6 L1607.3,1672.0 L1611.5,1673.3 L1615.7,1674.7 L1619.9,1676.0 L1624.1,1677.3 L1628.3,1678.6 L1632.5,1679.9 L1636.7,1681.2 L1640.9,1682.4 L1645.1,1683.6 L1649.2,1684.8 L1653.4,1685.9 L1657.6,1687.0 L1661.8,1688.1 L1666.0,1689.2 L1670.2,1690.3 L1674.4,1691.3 L1678.6,1692.3 L1682.8,1693.3 L1687.0,1694.2 L1691.1,1695.2 L1695.3,1696.1 L1699.5,1697.0 L1703.7,1697.8 L1707.9,1698.7 L1712.1,1699.5 L1716.3,1700.3 L1720.5,1701.1 L1724.7,1701.8 L1728.9,1702.6 L1733.0,1703.3 L1737.2,1704.0 L1741.4,1704.7 L1745.6,1705.4 L1749.8,1706.1 L1754.0,1706.7 L1758.2,1707.4 L1762.4,1708.0 L1766.6,1708.6 L1770.8,1709.2 L1775.0,1709.8 L1779.1,1710.4 L1783.3,1711.0 L1787.5,1711.6 L1791.7,1712.1 L1795.9,1712.7 L1800.1,1713.2 L1804.3,1713.8 L1808.5,1714.3 L1812.7,1714.8 L1816.8,1715.4 L1821.0,1715.9 L1825.2,1716.4 L1829.4,1716.9 L1833.6,1717.4 L1837.8,1718.0 L1842.0,1718.5 L1846.2,1719.0 L1850.4,1719.5 L1854.6,1720.0 L1858.8,1720.5 L1862.9,1721.1 L1867.1,1721.6 L1871.3,1722.1 L1875.5,1722.6 L1879.7,1723.1 L1883.9,1723.6 L1888.1,1724.1 L1892.3,1724.6 L1896.5,1725.1 L1900.6,1725.6 L1904.8,1726.1 L1909.0,1726.6 L1913.2,1727.1 L1917.4,1727.6 L1921.6,1728.1 L1925.8,1728.6 L1930.0,1729.1 L1934.2,1729.6 L1938.4,1730.1 L1942.5,1730.5 L1946.7,1731.0 L1950.9,1731.5 L1955.1,1732.0 L1959.3,1732.4 L1963.5,1732.9 L1967.7,1733.3 L1971.9,1733.8 L1976.1,1734.2 L1980.3,1734.7 L1984.5,1735.1 L1988.6,1735.6 L1992.8,1736.0 L1997.0,1736.4 L2001.2,1736.9 L2005.4,1737.3 L2009.6,1737.7 L2013.8,1738.1 L2018.0,1738.5 L2022.2,1738.9 L2026.3,1739.3 L2030.5,1739.7 L2034.7,1740.1 L2038.9,1740.5 L2043.1,1740.9 L2047.3,1741.2 L2051.5,1741.6 L2055.7,1742.0 L2059.9,1742.3 L2064.1,1742.7 L2068.2,1743.0 L2072.4,1743.3 L2076.6,1743.7 L2080.8,1744.0 L2085.0,1744.3 L2089.2,1744.6 L2093.4,1744.9 L2097.6,1745.2 L2101.8,1745.5 L2106.0,1745.8 L2110.1,1746.0 L2114.3,1746.3 L2118.5,1746.5 L2122.7,1746.8 L2126.9,1747.0 L2131.1,1747.3 L2135.3,1747.5 L2139.5,1747.7 L2143.7,1747.9 L2147.9,1748.1 L2152.1,1748.3 L2156.2,1748.5 L2160.4,1748.7 L2164.6,1748.8 L2168.8,1749.0 L2173.0,1749.1" fill="none" stroke="#FF00FF" stroke-width="3.8" stroke-dasharray="33.44 8.36" stroke-linejoin="round"/>
<path d="M1591,541.8 L1691,541.8" stroke="#FF0000" stroke-width="4.18" fill="none" shape-rendering="crispEdges"/><text x="1737" y="567.8" font-family="Liberation Sans, Arial, sans-serif" font-size="55" fill="#000">GME</text><path d="M1591,603.8 L1691,603.8" stroke="#000000" stroke-width="4.18" stroke-dasharray="20.90 12.54" fill="none" shape-rendering="crispEdges"/><text x="1737" y="629.8" font-family="Liberation Sans, Arial, sans-serif" font-size="55" fill="#000">E</text><path d="M1591,671.2 L1691,671.2" stroke="#00CD00" stroke-width="4.18" stroke-dasharray="8.36 8.36" fill="none" shape-rendering="crispEdges"/><text x="1737" y="697.2" font-family="Liberation Sans, Arial, sans-serif" font-size="55" fill="#000">WED</text><path d="M1591,733.5 L1691,733.5" stroke="#00FFFF" stroke-width="4.18" stroke-dasharray="8.36 8.36 20.90 8.36" fill="none" shape-rendering="crispEdges"/><text x="1737" y="759.5" font-family="Liberation Sans, Arial, sans-serif" font-size="55" fill="#000">GExtEW</text><path d="M1591,800.2 L1691,800.2" stroke="#FF00FF" stroke-width="4.18" stroke-dasharray="33.44 8.36" fill="none" shape-rendering="crispEdges"/><text x="1737" y="826.2" font-family="Liberation Sans, Arial, sans-serif" font-size="55" fill="#000">GWE</text>
<text x="1331" y="2435.8" font-family="Liberation Sans, Arial, sans-serif" font-weight="bold" font-size="80" text-anchor="middle" fill="#000">Estimated cdfs for data set of waiting times</text>
<path d="M430.9,4076.6 L615.4,4076.6 L615.4,4047.6 L634.5,4047.6 L634.5,4033.1 L642.2,4033.1 L642.2,4018.6 L653.7,4018.6 L653.7,4004.0 L657.5,4004.0 L657.5,3975.0 L665.1,3975.0 L665.1,3960.5 L684.3,3960.5 L684.3,3946.0 L688.1,3946.0 L688.1,3931.5 L695.7,3931.5 L695.7,3917.0 L703.4,3917.0 L703.4,3902.5 L707.2,3902.5 L707.2,3888.0 L711.0,3888.0 L711.0,3873.5 L718.7,3873.5 L718.7,3858.9 L722.5,3858.9 L722.5,3844.4 L737.8,3844.4 L737.8,3829.9 L741.6,3829.9 L741.6,3815.4 L745.5,3815.4 L745.5,3786.4 L749.3,3786.4 L749.3,3757.4 L753.1,3757.4 L753.1,3728.4 L760.8,3728.4 L760.8,3713.8 L764.6,3713.8 L764.6,3684.8 L768.4,3684.8 L768.4,3670.3 L772.2,3670.3 L772.2,3641.3 L776.1,3641.3 L776.1,3626.8 L787.6,3626.8 L787.6,3612.3 L795.2,3612.3 L795.2,3597.8 L802.9,3597.8 L802.9,3568.8 L818.2,3568.8 L818.2,3554.2 L822.0,3554.2 L822.0,3510.7 L825.8,3510.7 L825.8,3496.2 L841.1,3496.2 L841.1,3481.7 L848.8,3481.7 L848.8,3467.2 L856.4,3467.2 L856.4,3409.1 L867.9,3409.1 L867.9,3394.6 L875.5,3394.6 L875.5,3380.1 L879.4,3380.1 L879.4,3365.6 L890.8,3365.6 L890.8,3351.1 L898.5,3351.1 L898.5,3336.6 L913.8,3336.6 L913.8,3293.1 L921.4,3293.1 L921.4,3264.0 L925.3,3264.0 L925.3,3235.0 L948.2,3235.0 L948.2,3220.5 L952.0,3220.5 L952.0,3206.0 L955.9,3206.0 L955.9,3191.5 L959.7,3191.5 L959.7,3177.0 L994.1,3177.0 L994.1,3162.5 L1001.8,3162.5 L1001.8,3148.0 L1005.6,3148.0 L1005.6,3118.9 L1009.4,3118.9 L1009.4,3104.4 L1013.3,3104.4 L1013.3,3075.4 L1024.7,3075.4 L1024.7,3060.9 L1040.0,3060.9 L1040.0,3046.4 L1059.2,3046.4 L1059.2,3031.9 L1063.0,3031.9 L1063.0,3017.4 L1078.3,3017.4 L1078.3,3002.9 L1082.1,3002.9 L1082.1,2988.3 L1085.9,2988.3 L1085.9,2973.8 L1093.6,2973.8 L1093.6,2959.3 L1105.1,2959.3 L1105.1,2944.8 L1108.9,2944.8 L1108.9,2930.3 L1116.5,2930.3 L1116.5,2915.8 L1124.2,2915.8 L1124.2,2901.3 L1173.9,2901.3 L1173.9,2872.3 L1246.6,2872.3 L1246.6,2843.2 L1277.2,2843.2 L1277.2,2828.7 L1281.0,2828.7 L1281.0,2814.2 L1288.7,2814.2 L1288.7,2799.7 L1307.8,2799.7 L1307.8,2785.2 L1311.6,2785.2 L1311.6,2770.7 L1346.1,2770.7 L1346.1,2756.2 L1372.9,2756.2 L1372.9,2741.7 L1399.6,2741.7 L1399.6,2727.2 L1403.5,2727.2 L1403.5,2712.7 L1422.6,2712.7 L1422.6,2698.1 L1464.7,2698.1 L1464.7,2683.6 L1617.7,2683.6 L1617.7,2669.1 L1793.7,2669.1 L1793.7,2654.6 L1851.0,2654.6 L1851.0,2640.1 L2057.6,2640.1 L2057.6,2625.6 L2239.2,2625.6" fill="none" stroke="#000" stroke-width="4.18" shape-rendering="crispEdges"/>
<path d="M431,4076.6 L2239,4076.6" stroke="#B3B3B3" stroke-width="4.18" shape-rendering="crispEdges" stroke-dasharray="20.90 12.54" fill="none"/>
<path d="M431,2625.6 L2239,2625.6" stroke="#B3B3B3" stroke-width="4.18" shape-rendering="crispEdges" stroke-dasharray="20.90 12.54" fill="none"/>
<path d="M584.8,4076.6 L585.6,4075.9 L586.3,4075.5 L587.1,4075.0 L587.9,4074.6 L588.6,4074.2 L589.4,4073.7 L590.2,4073.2 L590.9,4072.7 L591.7,4072.2 L592.5,4071.6 L593.2,4071.1 L594.0,4070.5 L594.7,4069.9 L595.5,4069.3 L596.3,4068.7 L597.0,4068.0 L597.8,4067.4 L598.6,4066.7 L599.3,4066.0 L600.1,4065.3 L600.9,4064.6 L601.6,4063.9 L602.4,4063.1 L603.2,4062.3 L603.9,4061.6 L604.7,4060.8 L605.5,4059.9 L606.2,4059.1 L607.0,4058.3 L607.8,4057.4 L611.6,4052.9 L615.4,4048.0 L619.2,4042.8 L623.1,4037.2 L626.9,4031.3 L630.7,4025.1 L634.5,4018.6 L638.4,4011.8 L642.2,4004.7 L646.0,3997.3 L649.8,3989.6 L653.7,3981.7 L657.5,3973.6 L661.3,3965.2 L665.1,3956.6 L669.0,3947.8 L672.8,3938.8 L676.6,3929.6 L680.4,3920.2 L684.3,3910.6 L688.1,3900.9 L691.9,3891.1 L695.7,3881.1 L699.6,3871.0 L703.4,3860.8 L707.2,3850.4 L711.0,3840.0 L714.9,3829.5 L718.7,3819.0 L722.5,3808.4 L726.3,3797.7 L730.2,3787.0 L734.0,3776.3 L737.8,3765.5 L741.6,3754.8 L745.5,3744.0 L749.3,3733.2 L753.1,3722.4 L756.9,3711.6 L760.8,3700.8 L764.6,3690.1 L768.4,3679.3 L772.2,3668.6 L776.1,3657.9 L779.9,3647.3 L783.7,3636.7 L787.6,3626.1 L791.4,3615.6 L795.2,3605.1 L799.0,3594.7 L802.9,3584.3 L806.7,3574.0 L810.5,3563.7 L814.3,3553.5 L818.2,3543.3 L822.0,3533.2 L825.8,3523.1 L829.6,3513.1 L833.5,3503.1 L837.3,3493.1 L841.1,3483.3 L844.9,3473.4 L848.8,3463.7 L852.6,3454.0 L856.4,3444.3 L860.2,3434.7 L864.1,3425.2 L867.9,3415.7 L871.7,3406.2 L875.5,3396.9 L879.4,3387.6 L883.2,3378.3 L887.0,3369.1 L890.8,3360.0 L894.7,3350.9 L898.5,3341.9 L902.3,3333.0 L906.1,3324.1 L910.0,3315.3 L913.8,3306.5 L917.6,3297.9 L921.4,3289.2 L925.3,3280.7 L929.1,3272.2 L932.9,3263.8 L936.7,3255.5 L940.6,3247.2 L944.4,3239.0 L948.2,3230.9 L952.0,3222.8 L955.9,3214.8 L959.7,3206.9 L963.5,3199.1 L967.3,3191.3 L971.2,3183.6 L975.0,3176.0 L978.8,3168.5 L982.7,3161.0 L986.5,3153.6 L990.3,3146.3 L994.1,3139.1 L998.0,3131.9 L1001.8,3124.8 L1005.6,3117.9 L1009.4,3110.9 L1013.3,3104.1 L1017.1,3097.4 L1020.9,3090.7 L1024.7,3084.1 L1028.6,3077.6 L1032.4,3071.2 L1036.2,3064.8 L1040.0,3058.6 L1043.9,3052.4 L1047.7,3046.3 L1051.5,3040.3 L1055.3,3034.4 L1059.2,3028.5 L1063.0,3022.8 L1066.8,3017.1 L1070.6,3011.5 L1074.5,3006.0 L1078.3,3000.6 L1082.1,2995.2 L1085.9,2990.0 L1089.8,2984.8 L1093.6,2979.7 L1097.4,2974.7 L1101.2,2969.7 L1105.1,2964.9 L1108.9,2960.1 L1112.7,2955.4 L1116.5,2950.8 L1120.4,2946.3 L1124.2,2941.8 L1128.0,2937.4 L1131.8,2933.1 L1135.7,2928.9 L1139.5,2924.8 L1143.3,2920.7 L1147.1,2916.8 L1151.0,2912.9 L1154.8,2909.0 L1158.6,2905.3 L1162.5,2901.6 L1166.3,2897.9 L1170.1,2894.4 L1173.9,2890.8 L1177.8,2887.4 L1181.6,2883.9 L1185.4,2880.5 L1189.2,2877.1 L1193.1,2873.7 L1196.9,2870.4 L1200.7,2867.0 L1204.5,2863.7 L1208.4,2860.3 L1212.2,2856.9 L1216.0,2853.6 L1219.8,2850.2 L1223.7,2846.9 L1227.5,2843.5 L1231.3,2840.2 L1235.1,2836.9 L1239.0,2833.6 L1242.8,2830.4 L1246.6,2827.2 L1250.4,2824.0 L1254.3,2820.9 L1258.1,2817.8 L1261.9,2814.8 L1265.7,2811.9 L1269.6,2809.0 L1273.4,2806.1 L1277.2,2803.3 L1281.0,2800.6 L1284.9,2797.9 L1288.7,2795.2 L1292.5,2792.6 L1296.3,2790.1 L1300.2,2787.6 L1304.0,2785.1 L1307.8,2782.7 L1311.6,2780.3 L1315.5,2778.0 L1319.3,2775.7 L1323.1,2773.5 L1326.9,2771.3 L1330.8,2769.1 L1334.6,2767.0 L1338.4,2764.8 L1342.2,2762.8 L1346.1,2760.7 L1349.9,2758.7 L1353.7,2756.8 L1357.6,2754.8 L1361.4,2752.9 L1365.2,2751.0 L1369.0,2749.2 L1372.9,2747.3 L1376.7,2745.5 L1380.5,2743.8 L1384.3,2742.0 L1388.2,2740.3 L1392.0,2738.5 L1395.8,2736.8 L1399.6,2735.2 L1403.5,2733.5 L1407.3,2731.9 L1411.1,2730.3 L1414.9,2728.7 L1418.8,2727.1 L1422.6,2725.6 L1426.4,2724.1 L1430.2,2722.6 L1434.1,2721.1 L1437.9,2719.6 L1441.7,2718.2 L1445.5,2716.8 L1449.4,2715.4 L1453.2,2714.0 L1457.0,2712.6 L1460.8,2711.3 L1464.7,2709.9 L1468.5,2708.6 L1472.3,2707.3 L1476.1,2706.1 L1480.0,2704.8 L1483.8,2703.6 L1487.6,2702.4 L1491.4,2701.2 L1495.3,2700.0 L1499.1,2698.9 L1502.9,2697.7 L1506.7,2696.6 L1510.6,2695.5 L1514.4,2694.4 L1518.2,2693.3 L1522.0,2692.3 L1525.9,2691.2 L1529.7,2690.2 L1533.5,2689.2 L1537.3,2688.2 L1541.2,2687.3 L1545.0,2686.3 L1548.8,2685.4 L1552.7,2684.4 L1556.5,2683.5 L1560.3,2682.6 L1564.1,2681.8 L1568.0,2680.9 L1571.8,2680.0 L1575.6,2679.2 L1579.4,2678.4 L1583.3,2677.6 L1587.1,2676.8 L1590.9,2676.0 L1594.7,2675.3 L1598.6,2674.5 L1602.4,2673.8 L1606.2,2673.0 L1610.0,2672.3 L1613.9,2671.6 L1617.7,2671.0 L1621.5,2670.3 L1625.3,2669.6 L1629.2,2669.0 L1633.0,2668.3 L1636.8,2667.7 L1640.6,2667.1 L1644.5,2666.5 L1648.3,2665.9 L1652.1,2665.4 L1655.9,2664.8 L1659.8,2664.2 L1663.6,2663.7 L1667.4,2663.2 L1671.2,2662.7 L1675.1,2662.2 L1678.9,2661.7 L1682.7,2661.2 L1686.5,2660.7 L1690.4,2660.2 L1694.2,2659.8 L1698.0,2659.3 L1701.8,2658.9 L1705.7,2658.4 L1709.5,2658.0 L1713.3,2657.6 L1717.1,2657.2 L1721.0,2656.8 L1724.8,2656.4 L1728.6,2656.1 L1732.5,2655.7 L1736.3,2655.3 L1740.1,2655.0 L1743.9,2654.6 L1747.8,2654.3 L1751.6,2654.0 L1755.4,2653.6 L1759.2,2653.3 L1763.1,2653.0 L1766.9,2652.7 L1770.7,2652.4 L1774.5,2652.1 L1778.4,2651.9 L1782.2,2651.6 L1786.0,2651.3 L1789.8,2651.0 L1793.7,2650.8 L1797.5,2650.5 L1801.3,2650.3 L1805.1,2650.0 L1809.0,2649.8 L1812.8,2649.6 L1816.6,2649.3 L1820.4,2649.1 L1824.3,2648.9 L1828.1,2648.7 L1831.9,2648.5 L1835.7,2648.3 L1839.6,2648.1 L1843.4,2647.9 L1847.2,2647.7 L1851.0,2647.5 L1854.9,2647.3 L1858.7,2647.1 L1862.5,2646.9 L1866.3,2646.7 L1870.2,2646.6 L1874.0,2646.4 L1877.8,2646.2 L1881.6,2646.0 L1885.5,2645.9 L1889.3,2645.7 L1893.1,2645.5 L1896.9,2645.4 L1900.8,2645.2 L1904.6,2645.1 L1908.4,2644.9 L1912.2,2644.7 L1916.1,2644.6 L1919.9,2644.4 L1923.7,2644.3 L1927.6,2644.1 L1931.4,2643.9 L1935.2,2643.8 L1939.0,2643.6 L1942.9,2643.5 L1946.7,2643.3 L1950.5,2643.1 L1954.3,2643.0 L1958.2,2642.8 L1962.0,2642.6 L1965.8,2642.5 L1969.6,2642.3 L1973.5,2642.1 L1977.3,2642.0 L1981.1,2641.8 L1984.9,2641.6 L1988.8,2641.4 L1992.6,2641.3 L1996.4,2641.1 L2000.2,2640.9 L2004.1,2640.7 L2007.9,2640.5 L2011.7,2640.3 L2015.5,2640.1 L2019.4,2639.9 L2023.2,2639.7 L2027.0,2639.5 L2030.8,2639.3 L2034.7,2639.1 L2038.5,2638.9 L2042.3,2638.6 L2046.1,2638.4 L2050.0,2638.2 L2053.8,2637.9 L2057.6,2637.7 L2061.4,2637.4 L2065.3,2637.2 L2069.1,2636.9 L2072.9,2636.6 L2076.7,2636.4 L2080.6,2636.1 L2084.4,2635.8 L2088.2,2635.5 L2092.0,2635.2 L2095.9,2634.9 L2099.7,2634.6 L2103.5,2634.2 L2107.3,2633.9 L2111.2,2633.6 L2115.0,2633.2" fill="none" stroke="#FF0000" stroke-width="3.8" stroke-linejoin="round"/>
<path d="M584.8,4076.6 L585.6,4074.0 L586.3,4071.5 L587.1,4068.9 L587.9,4066.4 L588.6,4063.8 L589.4,4061.3 L590.2,4058.8 L590.9,4056.2 L591.7,4053.7 L592.5,4051.2 L593.2,4048.7 L594.0,4046.1 L594.7,4043.6 L595.5,4041.1 L596.3,4038.6 L597.0,4036.1 L597.8,4033.6 L598.6,4031.2 L599.3,4028.7 L600.1,4026.2 L600.9,4023.7 L601.6,4021.2 L602.4,4018.8 L603.2,4016.3 L603.9,4013.9 L604.7,4011.4 L605.5,4009.0 L606.2,4006.5 L607.0,4004.1 L607.8,4001.6 L611.6,3989.5 L615.4,3977.5 L619.2,3965.6 L623.1,3953.8 L626.9,3942.1 L630.7,3930.6 L634.5,3919.1 L638.4,3907.7 L642.2,3896.4 L646.0,3885.2 L649.8,3874.1 L653.7,3863.1 L657.5,3852.3 L661.3,3841.5 L665.1,3830.8 L669.0,3820.2 L672.8,3809.6 L676.6,3799.2 L680.4,3788.9 L684.3,3778.7 L688.1,3768.5 L691.9,3758.4 L695.7,3748.5 L699.6,3738.6 L703.4,3728.8 L707.2,3719.1 L711.0,3709.5 L714.9,3699.9 L718.7,3690.5 L722.5,3681.1 L726.3,3671.8 L730.2,3662.6 L734.0,3653.5 L737.8,3644.4 L741.6,3635.5 L745.5,3626.6 L749.3,3617.8 L753.1,3609.0 L756.9,3600.4 L760.8,3591.8 L764.6,3583.3 L768.4,3574.9 L772.2,3566.5 L776.1,3558.2 L779.9,3550.0 L783.7,3541.9 L787.6,3533.8 L791.4,3525.8 L795.2,3517.9 L799.0,3510.1 L802.9,3502.3 L806.7,3494.6 L810.5,3486.9 L814.3,3479.3 L818.2,3471.8 L822.0,3464.4 L825.8,3457.0 L829.6,3449.7 L833.5,3442.4 L837.3,3435.2 L841.1,3428.1 L844.9,3421.0 L848.8,3414.0 L852.6,3407.1 L856.4,3400.2 L860.2,3393.4 L864.1,3386.6 L867.9,3379.9 L871.7,3373.3 L875.5,3366.7 L879.4,3360.2 L883.2,3353.7 L887.0,3347.3 L890.8,3341.0 L894.7,3334.7 L898.5,3328.4 L902.3,3322.3 L906.1,3316.1 L910.0,3310.0 L913.8,3304.0 L917.6,3298.1 L921.4,3292.1 L925.3,3286.3 L929.1,3280.5 L932.9,3274.7 L936.7,3269.0 L940.6,3263.3 L944.4,3257.7 L948.2,3252.1 L952.0,3246.6 L955.9,3241.2 L959.7,3235.7 L963.5,3230.4 L967.3,3225.0 L971.2,3219.8 L975.0,3214.5 L978.8,3209.4 L982.7,3204.2 L986.5,3199.1 L990.3,3194.1 L994.1,3189.1 L998.0,3184.1 L1001.8,3179.2 L1005.6,3174.3 L1009.4,3169.5 L1013.3,3164.7 L1017.1,3160.0 L1020.9,3155.3 L1024.7,3150.6 L1028.6,3146.0 L1032.4,3141.4 L1036.2,3136.9 L1040.0,3132.4 L1043.9,3127.9 L1047.7,3123.5 L1051.5,3119.1 L1055.3,3114.8 L1059.2,3110.5 L1063.0,3106.2 L1066.8,3102.0 L1070.6,3097.8 L1074.5,3093.6 L1078.3,3089.5 L1082.1,3085.4 L1085.9,3081.4 L1089.8,3077.3 L1093.6,3073.4 L1097.4,3069.4 L1101.2,3065.5 L1105.1,3061.7 L1108.9,3057.8 L1112.7,3054.0 L1116.5,3050.2 L1120.4,3046.5 L1124.2,3042.8 L1128.0,3039.1 L1131.8,3035.5 L1135.7,3031.9 L1139.5,3028.3 L1143.3,3024.8 L1147.1,3021.2 L1151.0,3017.8 L1154.8,3014.3 L1158.6,3010.9 L1162.5,3007.5 L1166.3,3004.1 L1170.1,3000.8 L1173.9,2997.5 L1177.8,2994.2 L1181.6,2991.0 L1185.4,2987.8 L1189.2,2984.6 L1193.1,2981.4 L1196.9,2978.3 L1200.7,2975.2 L1204.5,2972.1 L1208.4,2969.1 L1212.2,2966.0 L1216.0,2963.0 L1219.8,2960.1 L1223.7,2957.1 L1227.5,2954.2 L1231.3,2951.3 L1235.1,2948.5 L1239.0,2945.6 L1242.8,2942.8 L1246.6,2940.0 L1250.4,2937.2 L1254.3,2934.5 L1258.1,2931.8 L1261.9,2929.1 L1265.7,2926.4 L1269.6,2923.8 L1273.4,2921.1 L1277.2,2918.5 L1281.0,2916.0 L1284.9,2913.4 L1288.7,2910.9 L1292.5,2908.4 L1296.3,2905.9 L1300.2,2903.4 L1304.0,2901.0 L1307.8,2898.5 L1311.6,2896.1 L1315.5,2893.8 L1319.3,2891.4 L1323.1,2889.1 L1326.9,2886.7 L1330.8,2884.4 L1334.6,2882.2 L1338.4,2879.9 L1342.2,2877.7 L1346.1,2875.4 L1349.9,2873.2 L1353.7,2871.1 L1357.6,2868.9 L1361.4,2866.8 L1365.2,2864.6 L1369.0,2862.5 L1372.9,2860.5 L1376.7,2858.4 L1380.5,2856.3 L1384.3,2854.3 L1388.2,2852.3 L1392.0,2850.3 L1395.8,2848.3 L1399.6,2846.4 L1403.5,2844.4 L1407.3,2842.5 L1411.1,2840.6 L1414.9,2838.7 L1418.8,2836.8 L1422.6,2835.0 L1426.4,2833.1 L1430.2,2831.3 L1434.1,2829.5 L1437.9,2827.7 L1441.7,2825.9 L1445.5,2824.1 L1449.4,2822.4 L1453.2,2820.7 L1457.0,2818.9 L1460.8,2817.2 L1464.7,2815.6 L1468.5,2813.9 L1472.3,2812.2 L1476.1,2810.6 L1480.0,2809.0 L1483.8,2807.3 L1487.6,2805.7 L1491.4,2804.2 L1495.3,2802.6 L1499.1,2801.0 L1502.9,2799.5 L1506.7,2798.0 L1510.6,2796.4 L1514.4,2794.9 L1518.2,2793.4 L1522.0,2792.0 L1525.9,2790.5 L1529.7,2789.1 L1533.5,2787.6 L1537.3,2786.2 L1541.2,2784.8 L1545.0,2783.4 L1548.8,2782.0 L1552.7,2780.6 L1556.5,2779.2 L1560.3,2777.9 L1564.1,2776.6 L1568.0,2775.2 L1571.8,2773.9 L1575.6,2772.6 L1579.4,2771.3 L1583.3,2770.0 L1587.1,2768.8 L1590.9,2767.5 L1594.7,2766.2 L1598.6,2765.0 L1602.4,2763.8 L1606.2,2762.6 L1610.0,2761.4 L1613.9,2760.2 L1617.7,2759.0 L1621.5,2757.8 L1625.3,2756.6 L1629.2,2755.5 L1633.0,2754.3 L1636.8,2753.2 L1640.6,2752.1 L1644.5,2751.0 L1648.3,2749.9 L1652.1,2748.8 L1655.9,2747.7 L1659.8,2746.6 L1663.6,2745.6 L1667.4,2744.5 L1671.2,2743.5 L1675.1,2742.4 L1678.9,2741.4 L1682.7,2740.4 L1686.5,2739.4 L1690.4,2738.4 L1694.2,2737.4 L1698.0,2736.4 L1701.8,2735.4 L1705.7,2734.4 L1709.5,2733.5 L1713.3,2732.5 L1717.1,2731.6 L1721.0,2730.7 L1724.8,2729.7 L1728.6,2728.8 L1732.5,2727.9 L1736.3,2727.0 L1740.1,2726.1 L1743.9,2725.2 L1747.8,2724.4 L1751.6,2723.5 L1755.4,2722.6 L1759.2,2721.8 L1763.1,2720.9 L1766.9,2720.1 L1770.7,2719.3 L1774.5,2718.4 L1778.4,2717.6 L1782.2,2716.8 L1786.0,2716.0 L1789.8,2715.2 L1793.7,2714.4 L1797.5,2713.6 L1801.3,2712.9 L1805.1,2712.1 L1809.0,2711.3 L1812.8,2710.6 L1816.6,2709.8 L1820.4,2709.1 L1824.3,2708.4 L1828.1,2707.6 L1831.9,2706.9 L1835.7,2706.2 L1839.6,2705.5 L1843.4,2704.8 L1847.2,2704.1 L1851.0,2703.4 L1854.9,2702.7 L1858.7,2702.0 L1862.5,2701.4 L1866.3,2700.7 L1870.2,2700.0 L1874.0,2699.4 L1877.8,2698.7 L1881.6,2698.1 L1885.5,2697.4 L1889.3,2696.8 L1893.1,2696.2 L1896.9,2695.6 L1900.8,2694.9 L1904.6,2694.3 L1908.4,2693.7 L1912.2,2693.1 L1916.1,2692.5 L1919.9,2691.9 L1923.7,2691.4 L1927.6,2690.8 L1931.4,2690.2 L1935.2,2689.6 L1939.0,2689.1 L1942.9,2688.5 L1946.7,2688.0 L1950.5,2687.4 L1954.3,2686.9 L1958.2,2686.3 L1962.0,2685.8 L1965.8,2685.3 L1969.6,2684.7 L1973.5,2684.2 L1977.3,2683.7 L1981.1,2683.2 L1984.9,2682.7 L1988.8,2682.2 L1992.6,2681.7 L1996.4,2681.2 L2000.2,2680.7 L2004.1,2680.2 L2007.9,2679.7 L2011.7,2679.3 L2015.5,2678.8 L2019.4,2678.3 L2023.2,2677.9 L2027.0,2677.4 L2030.8,2676.9 L2034.7,2676.5 L2038.5,2676.0 L2042.3,2675.6 L2046.1,2675.2 L2050.0,2674.7 L2053.8,2674.3 L2057.6,2673.9 L2061.4,2673.4 L2065.3,2673.0 L2069.1,2672.6 L2072.9,2672.2 L2076.7,2671.8 L2080.6,2671.4 L2084.4,2671.0 L2088.2,2670.6 L2092.0,2670.2 L2095.9,2669.8 L2099.7,2669.4 L2103.5,2669.0 L2107.3,2668.6 L2111.2,2668.2 L2115.0,2667.9" fill="none" stroke="#000000" stroke-width="3.8" stroke-dasharray="20.90 12.54" stroke-linejoin="round"/>
<path d="M584.8,4076.6 L585.6,4075.4 L586.3,4074.3 L587.1,4073.1 L587.9,4071.9 L588.6,4070.8 L589.4,4069.6 L590.2,4068.4 L590.9,4067.3 L591.7,4066.1 L592.5,4064.9 L593.2,4063.7 L594.0,4062.6 L594.7,4061.4 L595.5,4060.2 L596.3,4059.0 L597.0,4057.9 L597.8,4056.7 L598.6,4055.5 L599.3,4054.3 L600.1,4053.1 L600.9,4051.9 L601.6,4050.7 L602.4,4049.5 L603.2,4048.3 L603.9,4047.1 L604.7,4045.9 L605.5,4044.7 L606.2,4043.5 L607.0,4042.3 L607.8,4041.1 L611.6,4035.0 L615.4,4028.8 L619.2,4022.6 L623.1,4016.2 L626.9,4009.8 L630.7,4003.3 L634.5,3996.7 L638.4,3990.0 L642.2,3983.2 L646.0,3976.2 L649.8,3969.1 L653.7,3961.9 L657.5,3954.6 L661.3,3947.1 L665.1,3939.5 L669.0,3931.7 L672.8,3923.7 L676.6,3915.6 L680.4,3907.3 L684.3,3898.8 L688.1,3890.2 L691.9,3881.3 L695.7,3872.2 L699.6,3863.0 L703.4,3853.5 L707.2,3843.8 L711.0,3833.9 L714.9,3823.7 L718.7,3813.5 L722.5,3803.3 L726.3,3793.0 L730.2,3782.9 L734.0,3773.0 L737.8,3763.2 L741.6,3753.5 L745.5,3744.0 L749.3,3734.6 L753.1,3725.2 L756.9,3715.9 L760.8,3706.7 L764.6,3697.4 L768.4,3688.1 L772.2,3678.8 L776.1,3669.4 L779.9,3659.9 L783.7,3650.3 L787.6,3640.6 L791.4,3630.8 L795.2,3620.8 L799.0,3610.8 L802.9,3600.7 L806.7,3590.7 L810.5,3580.7 L814.3,3570.8 L818.2,3561.0 L822.0,3551.3 L825.8,3541.7 L829.6,3532.2 L833.5,3522.7 L837.3,3513.3 L841.1,3504.0 L844.9,3494.7 L848.8,3485.5 L852.6,3476.4 L856.4,3467.3 L860.2,3458.3 L864.1,3449.3 L867.9,3440.3 L871.7,3431.4 L875.5,3422.5 L879.4,3413.7 L883.2,3404.8 L887.0,3396.0 L890.8,3387.3 L894.7,3378.5 L898.5,3369.7 L902.3,3361.0 L906.1,3352.3 L910.0,3343.6 L913.8,3334.9 L917.6,3326.2 L921.4,3317.6 L925.3,3309.0 L929.1,3300.4 L932.9,3291.9 L936.7,3283.4 L940.6,3274.9 L944.4,3266.5 L948.2,3258.1 L952.0,3249.8 L955.9,3241.5 L959.7,3233.2 L963.5,3225.0 L967.3,3216.9 L971.2,3208.8 L975.0,3200.8 L978.8,3192.8 L982.7,3184.8 L986.5,3177.0 L990.3,3169.2 L994.1,3161.4 L998.0,3153.8 L1001.8,3146.2 L1005.6,3138.7 L1009.4,3131.2 L1013.3,3123.8 L1017.1,3116.5 L1020.9,3109.3 L1024.7,3102.2 L1028.6,3095.1 L1032.4,3088.1 L1036.2,3081.2 L1040.0,3074.4 L1043.9,3067.7 L1047.7,3061.0 L1051.5,3054.4 L1055.3,3047.9 L1059.2,3041.5 L1063.0,3035.1 L1066.8,3028.8 L1070.6,3022.6 L1074.5,3016.4 L1078.3,3010.4 L1082.1,3004.4 L1085.9,2998.4 L1089.8,2992.5 L1093.6,2986.7 L1097.4,2981.0 L1101.2,2975.3 L1105.1,2969.7 L1108.9,2964.1 L1112.7,2958.6 L1116.5,2953.2 L1120.4,2947.8 L1124.2,2942.5 L1128.0,2937.3 L1131.8,2932.1 L1135.7,2926.9 L1139.5,2921.8 L1143.3,2916.8 L1147.1,2911.8 L1151.0,2906.9 L1154.8,2902.0 L1158.6,2897.2 L1162.5,2892.4 L1166.3,2887.7 L1170.1,2883.0 L1173.9,2878.4 L1177.8,2873.8 L1181.6,2869.2 L1185.4,2864.7 L1189.2,2860.3 L1193.1,2855.9 L1196.9,2851.5 L1200.7,2847.2 L1204.5,2842.9 L1208.4,2838.7 L1212.2,2834.5 L1216.0,2830.3 L1219.8,2826.2 L1223.7,2822.2 L1227.5,2818.2 L1231.3,2814.3 L1235.1,2810.4 L1239.0,2806.6 L1242.8,2802.8 L1246.6,2799.1 L1250.4,2795.4 L1254.3,2791.8 L1258.1,2788.3 L1261.9,2784.8 L1265.7,2781.4 L1269.6,2778.0 L1273.4,2774.8 L1277.2,2771.5 L1281.0,2768.4 L1284.9,2765.3 L1288.7,2762.2 L1292.5,2759.3 L1296.3,2756.4 L1300.2,2753.5 L1304.0,2750.7 L1307.8,2748.0 L1311.6,2745.3 L1315.5,2742.7 L1319.3,2740.2 L1323.1,2737.7 L1326.9,2735.2 L1330.8,2732.8 L1334.6,2730.5 L1338.4,2728.2 L1342.2,2725.9 L1346.1,2723.7 L1349.9,2721.6 L1353.7,2719.5 L1357.6,2717.4 L1361.4,2715.4 L1365.2,2713.4 L1369.0,2711.5 L1372.9,2709.6 L1376.7,2707.7 L1380.5,2705.9 L1384.3,2704.2 L1388.2,2702.4 L1392.0,2700.7 L1395.8,2699.1 L1399.6,2697.4 L1403.5,2695.8 L1407.3,2694.3 L1411.1,2692.7 L1414.9,2691.2 L1418.8,2689.8 L1422.6,2688.3 L1426.4,2686.9 L1430.2,2685.5 L1434.1,2684.1 L1437.9,2682.8 L1441.7,2681.5 L1445.5,2680.2 L1449.4,2678.9 L1453.2,2677.6 L1457.0,2676.4 L1460.8,2675.2 L1464.7,2674.0 L1468.5,2672.8 L1472.3,2671.6 L1476.1,2670.5 L1480.0,2669.4 L1483.8,2668.3 L1487.6,2667.2 L1491.4,2666.1 L1495.3,2665.1 L1499.1,2664.0 L1502.9,2663.0 L1506.7,2662.0 L1510.6,2661.0 L1514.4,2660.1 L1518.2,2659.1 L1522.0,2658.2 L1525.9,2657.3 L1529.7,2656.4 L1533.5,2655.5 L1537.3,2654.7 L1541.2,2653.8 L1545.0,2653.0 L1548.8,2652.2 L1552.7,2651.4 L1556.5,2650.7 L1560.3,2649.9 L1564.1,2649.1 L1568.0,2648.4 L1571.8,2647.7 L1575.6,2647.0 L1579.4,2646.3 L1583.3,2645.7 L1587.1,2645.0 L1590.9,2644.4 L1594.7,2643.7 L1598.6,2643.1 L1602.4,2642.5 L1606.2,2641.9 L1610.0,2641.4 L1613.9,2640.8 L1617.7,2640.3 L1621.5,2639.7 L1625.3,2639.2 L1629.2,2638.7 L1633.0,2638.2 L1636.8,2637.8 L1640.6,2637.3 L1644.5,2636.8 L1648.3,2636.4 L1652.1,2636.0 L1655.9,2635.6 L1659.8,2635.2 L1663.6,2634.8 L1667.4,2634.4 L1671.2,2634.0 L1675.1,2633.6 L1678.9,2633.3 L1682.7,2633.0 L1686.5,2632.6 L1690.4,2632.3 L1694.2,2632.0 L1698.0,2631.7 L1701.8,2631.4 L1705.7,2631.1 L1709.5,2630.9 L1713.3,2630.6 L1717.1,2630.4 L1721.0,2630.1 L1724.8,2629.9 L1728.6,2629.7 L1732.5,2629.5 L1736.3,2629.3 L1740.1,2629.1 L1743.9,2628.9 L1747.8,2628.7 L1751.6,2628.5 L1755.4,2628.4 L1759.2,2628.2 L1763.1,2628.1 L1766.9,2627.9 L1770.7,2627.8 L1774.5,2627.7 L1778.4,2627.5 L1782.2,2627.4 L1786.0,2627.3 L1789.8,2627.2 L1793.7,2627.1 L1797.5,2627.0 L1801.3,2627.0 L1805.1,2626.9 L1809.0,2626.8 L1812.8,2626.7 L1816.6,2626.7 L1820.4,2626.6 L1824.3,2626.6 L1828.1,2626.5 L1831.9,2626.5 L1835.7,2626.5 L1839.6,2626.4 L1843.4,2626.4 L1847.2,2626.4 L1851.0,2626.4 L1854.9,2626.3 L1858.7,2626.3 L1862.5,2626.3 L1866.3,2626.3 L1870.2,2626.3 L1874.0,2626.3 L1877.8,2626.3 L1881.6,2626.3 L1885.5,2626.3 L1889.3,2626.3 L1893.1,2626.3 L1896.9,2626.3 L1900.8,2626.3 L1904.6,2626.3 L1908.4,2626.3 L1912.2,2626.3 L1916.1,2626.3 L1919.9,2626.3 L1923.7,2626.3 L1927.6,2626.3 L1931.4,2626.3 L1935.2,2626.3 L1939.0,2626.3 L1942.9,2626.3 L1946.7,2626.3 L1950.5,2626.3 L1954.3,2626.3 L1958.2,2626.3 L1962.0,2626.3 L1965.8,2626.3 L1969.6,2626.3 L1973.5,2626.3 L1977.3,2626.3 L1981.1,2626.3 L1984.9,2626.3 L1988.8,2626.3 L1992.6,2626.3 L1996.4,2626.3 L2000.2,2626.3 L2004.1,2626.3 L2007.9,2626.3 L2011.7,2626.3 L2015.5,2626.3 L2019.4,2626.3 L2023.2,2626.3 L2027.0,2626.3 L2030.8,2626.3 L2034.7,2626.3 L2038.5,2626.3 L2042.3,2626.3 L2046.1,2626.3 L2050.0,2626.3 L2053.8,2626.3 L2057.6,2626.3 L2061.4,2626.3 L2065.3,2626.3 L2069.1,2626.3 L2072.9,2626.3 L2076.7,2626.3 L2080.6,2626.3 L2084.4,2626.3 L2088.2,2626.3 L2092.0,2626.2 L2095.9,2626.1 L2099.7,2626.0 L2103.5,2625.9 L2107.3,2625.8 L2111.2,2625.7 L2115.0,2625.6" fill="none" stroke="#00CD00" stroke-width="3.8" stroke-dasharray="8.36 8.36" stroke-linejoin="round"/>
<path d="M584.8,4076.6 L585.6,4076.4 L586.3,4076.1 L587.1,4075.8 L587.9,4075.5 L588.6,4075.2 L589.4,4074.8 L590.2,4074.5 L590.9,4074.1 L591.7,4073.7 L592.5,4073.3 L593.2,4072.9 L594.0,4072.5 L594.7,4072.0 L595.5,4071.6 L596.3,4071.1 L597.0,4070.6 L597.8,4070.1 L598.6,4069.6 L599.3,4069.1 L600.1,4068.6 L600.9,4068.0 L601.6,4067.4 L602.4,4066.9 L603.2,4066.3 L603.9,4065.6 L604.7,4065.0 L605.5,4064.4 L606.2,4063.7 L607.0,4063.1 L607.8,4062.4 L611.6,4058.8 L615.4,4054.8 L619.2,4050.5 L623.1,4045.8 L626.9,4040.8 L630.7,4035.5 L634.5,4029.9 L638.4,4023.9 L642.2,4017.6 L646.0,4010.9 L649.8,4004.0 L653.7,3996.7 L657.5,3989.1 L661.3,3981.2 L665.1,3973.0 L669.0,3964.5 L672.8,3955.7 L676.6,3946.6 L680.4,3937.1 L684.3,3927.4 L688.1,3917.4 L691.9,3907.1 L695.7,3896.6 L699.6,3885.7 L703.4,3874.6 L707.2,3863.3 L711.0,3851.9 L714.9,3840.4 L718.7,3829.1 L722.5,3817.8 L726.3,3806.7 L730.2,3796.0 L734.0,3785.5 L737.8,3775.3 L741.6,3765.3 L745.5,3755.4 L749.3,3745.6 L753.1,3735.7 L756.9,3725.7 L760.8,3715.6 L764.6,3705.1 L768.4,3694.3 L772.2,3683.3 L776.1,3672.0 L779.9,3660.4 L783.7,3648.6 L787.6,3636.7 L791.4,3624.6 L795.2,3612.5 L799.0,3600.2 L802.9,3588.0 L806.7,3575.7 L810.5,3563.4 L814.3,3551.2 L818.2,3539.0 L822.0,3527.0 L825.8,3515.2 L829.6,3503.5 L833.5,3492.0 L837.3,3480.8 L841.1,3469.8 L844.9,3459.2 L848.8,3448.9 L852.6,3438.9 L856.4,3429.3 L860.2,3419.8 L864.1,3410.5 L867.9,3401.3 L871.7,3392.1 L875.5,3382.7 L879.4,3373.4 L883.2,3363.9 L887.0,3354.4 L890.8,3344.8 L894.7,3335.3 L898.5,3325.8 L902.3,3316.3 L906.1,3307.0 L910.0,3297.7 L913.8,3288.5 L917.6,3279.5 L921.4,3270.6 L925.3,3261.9 L929.1,3253.4 L932.9,3245.2 L936.7,3237.1 L940.6,3229.3 L944.4,3221.6 L948.2,3214.0 L952.0,3206.6 L955.9,3199.2 L959.7,3192.0 L963.5,3184.7 L967.3,3177.5 L971.2,3170.3 L975.0,3163.1 L978.8,3155.8 L982.7,3148.6 L986.5,3141.4 L990.3,3134.3 L994.1,3127.2 L998.0,3120.2 L1001.8,3113.3 L1005.6,3106.5 L1009.4,3099.8 L1013.3,3093.1 L1017.1,3086.6 L1020.9,3080.3 L1024.7,3074.0 L1028.6,3067.8 L1032.4,3061.7 L1036.2,3055.7 L1040.0,3049.8 L1043.9,3044.0 L1047.7,3038.3 L1051.5,3032.7 L1055.3,3027.2 L1059.2,3021.7 L1063.0,3016.3 L1066.8,3011.1 L1070.6,3005.9 L1074.5,3000.7 L1078.3,2995.7 L1082.1,2990.7 L1085.9,2985.8 L1089.8,2980.9 L1093.6,2976.1 L1097.4,2971.4 L1101.2,2966.7 L1105.1,2962.1 L1108.9,2957.6 L1112.7,2953.1 L1116.5,2948.7 L1120.4,2944.3 L1124.2,2939.9 L1128.0,2935.6 L1131.8,2931.4 L1135.7,2927.2 L1139.5,2923.0 L1143.3,2918.9 L1147.1,2914.8 L1151.0,2910.7 L1154.8,2906.7 L1158.6,2902.7 L1162.5,2898.7 L1166.3,2894.8 L1170.1,2890.9 L1173.9,2887.1 L1177.8,2883.3 L1181.6,2879.5 L1185.4,2875.8 L1189.2,2872.1 L1193.1,2868.4 L1196.9,2864.8 L1200.7,2861.3 L1204.5,2857.8 L1208.4,2854.3 L1212.2,2850.9 L1216.0,2847.5 L1219.8,2844.1 L1223.7,2840.8 L1227.5,2837.6 L1231.3,2834.4 L1235.1,2831.2 L1239.0,2828.1 L1242.8,2825.1 L1246.6,2822.1 L1250.4,2819.1 L1254.3,2816.2 L1258.1,2813.4 L1261.9,2810.6 L1265.7,2807.8 L1269.6,2805.1 L1273.4,2802.4 L1277.2,2799.8 L1281.0,2797.3 L1284.9,2794.8 L1288.7,2792.3 L1292.5,2789.9 L1296.3,2787.5 L1300.2,2785.1 L1304.0,2782.8 L1307.8,2780.6 L1311.6,2778.4 L1315.5,2776.2 L1319.3,2774.1 L1323.1,2772.0 L1326.9,2769.9 L1330.8,2767.9 L1334.6,2765.9 L1338.4,2763.9 L1342.2,2762.0 L1346.1,2760.1 L1349.9,2758.2 L1353.7,2756.4 L1357.6,2754.6 L1361.4,2752.8 L1365.2,2751.1 L1369.0,2749.4 L1372.9,2747.7 L1376.7,2746.0 L1380.5,2744.4 L1384.3,2742.8 L1388.2,2741.2 L1392.0,2739.6 L1395.8,2738.1 L1399.6,2736.6 L1403.5,2735.1 L1407.3,2733.6 L1411.1,2732.2 L1414.9,2730.7 L1418.8,2729.3 L1422.6,2728.0 L1426.4,2726.6 L1430.2,2725.3 L1434.1,2724.0 L1437.9,2722.7 L1441.7,2721.4 L1445.5,2720.1 L1449.4,2718.9 L1453.2,2717.7 L1457.0,2716.5 L1460.8,2715.3 L1464.7,2714.2 L1468.5,2713.0 L1472.3,2711.9 L1476.1,2710.8 L1480.0,2709.7 L1483.8,2708.7 L1487.6,2707.6 L1491.4,2706.6 L1495.3,2705.6 L1499.1,2704.6 L1502.9,2703.6 L1506.7,2702.6 L1510.6,2701.7 L1514.4,2700.8 L1518.2,2699.8 L1522.0,2698.9 L1525.9,2698.1 L1529.7,2697.2 L1533.5,2696.3 L1537.3,2695.5 L1541.2,2694.6 L1545.0,2693.8 L1548.8,2693.0 L1552.7,2692.2 L1556.5,2691.4 L1560.3,2690.7 L1564.1,2689.9 L1568.0,2689.2 L1571.8,2688.4 L1575.6,2687.7 L1579.4,2687.0 L1583.3,2686.3 L1587.1,2685.6 L1590.9,2684.9 L1594.7,2684.3 L1598.6,2683.6 L1602.4,2683.0 L1606.2,2682.3 L1610.0,2681.7 L1613.9,2681.1 L1617.7,2680.4 L1621.5,2679.8 L1625.3,2679.2 L1629.2,2678.6 L1633.0,2678.0 L1636.8,2677.5 L1640.6,2676.9 L1644.5,2676.3 L1648.3,2675.8 L1652.1,2675.2 L1655.9,2674.7 L1659.8,2674.1 L1663.6,2673.6 L1667.4,2673.0 L1671.2,2672.5 L1675.1,2672.0 L1678.9,2671.5 L1682.7,2671.0 L1686.5,2670.4 L1690.4,2669.9 L1694.2,2669.4 L1698.0,2669.0 L1701.8,2668.5 L1705.7,2668.0 L1709.5,2667.5 L1713.3,2667.0 L1717.1,2666.6 L1721.0,2666.1 L1724.8,2665.6 L1728.6,2665.2 L1732.5,2664.7 L1736.3,2664.3 L1740.1,2663.9 L1743.9,2663.4 L1747.8,2663.0 L1751.6,2662.6 L1755.4,2662.2 L1759.2,2661.7 L1763.1,2661.3 L1766.9,2660.9 L1770.7,2660.5 L1774.5,2660.1 L1778.4,2659.7 L1782.2,2659.3 L1786.0,2659.0 L1789.8,2658.6 L1793.7,2658.2 L1797.5,2657.8 L1801.3,2657.5 L1805.1,2657.1 L1809.0,2656.7 L1812.8,2656.4 L1816.6,2656.0 L1820.4,2655.7 L1824.3,2655.3 L1828.1,2655.0 L1831.9,2654.7 L1835.7,2654.3 L1839.6,2654.0 L1843.4,2653.7 L1847.2,2653.4 L1851.0,2653.0 L1854.9,2652.7 L1858.7,2652.4 L1862.5,2652.1 L1866.3,2651.8 L1870.2,2651.5 L1874.0,2651.2 L1877.8,2650.9 L1881.6,2650.6 L1885.5,2650.3 L1889.3,2650.1 L1893.1,2649.8 L1896.9,2649.5 L1900.8,2649.2 L1904.6,2649.0 L1908.4,2648.7 L1912.2,2648.4 L1916.1,2648.2 L1919.9,2647.9 L1923.7,2647.7 L1927.6,2647.4 L1931.4,2647.2 L1935.2,2646.9 L1939.0,2646.7 L1942.9,2646.4 L1946.7,2646.2 L1950.5,2646.0 L1954.3,2645.7 L1958.2,2645.5 L1962.0,2645.3 L1965.8,2645.0 L1969.6,2644.8 L1973.5,2644.6 L1977.3,2644.4 L1981.1,2644.2 L1984.9,2644.0 L1988.8,2643.7 L1992.6,2643.5 L1996.4,2643.3 L2000.2,2643.1 L2004.1,2642.9 L2007.9,2642.7 L2011.7,2642.5 L2015.5,2642.3 L2019.4,2642.2 L2023.2,2642.0 L2027.0,2641.8 L2030.8,2641.6 L2034.7,2641.4 L2038.5,2641.2 L2042.3,2641.0 L2046.1,2640.9 L2050.0,2640.7 L2053.8,2640.5 L2057.6,2640.3 L2061.4,2640.2 L2065.3,2640.0 L2069.1,2639.8 L2072.9,2639.7 L2076.7,2639.5 L2080.6,2639.3 L2084.4,2639.2 L2088.2,2639.0 L2092.0,2638.9 L2095.9,2638.7 L2099.7,2638.5 L2103.5,2638.4 L2107.3,2638.2 L2111.2,2638.1 L2115.0,2637.9" fill="none" stroke="#00FFFF" stroke-width="3.8" stroke-dasharray="8.36 8.36 20.90 8.36" stroke-linejoin="round"/>
<path d="M584.8,4076.6 L585.6,4076.1 L586.3,4076.1 L587.1,4076.1 L587.9,4076.1 L588.6,4076.1 L589.4,4076.1 L590.2,4076.1 L590.9,4076.1 L591.7,4076.1 L592.5,4076.1 L593.2,4076.1 L594.0,4076.1 L594.7,4076.1 L595.5,4076.1 L596.3,4076.1 L597.0,4076.1 L597.8,4076.1 L598.6,4076.1 L599.3,4076.1 L600.1,4076.1 L600.9,4076.1 L601.6,4076.1 L602.4,4076.1 L603.2,4076.1 L603.9,4076.1 L604.7,4076.1 L605.5,4076.1 L606.2,4076.1 L607.0,4076.1 L607.8,4076.1 L611.6,4076.1 L615.4,4076.1 L619.2,4074.3 L623.1,4071.1 L626.9,4067.4 L630.7,4063.2 L634.5,4058.5 L638.4,4053.3 L642.2,4047.5 L646.0,4041.3 L649.8,4034.6 L653.7,4027.4 L657.5,4019.8 L661.3,4011.8 L665.1,4003.3 L669.0,3994.4 L672.8,3985.1 L676.6,3975.4 L680.4,3965.4 L684.3,3955.0 L688.1,3944.2 L691.9,3933.1 L695.7,3921.7 L699.6,3909.9 L703.4,3898.0 L707.2,3885.7 L711.0,3873.3 L714.9,3860.6 L718.7,3847.8 L722.5,3834.9 L726.3,3821.8 L730.2,3808.6 L734.0,3795.4 L737.8,3782.1 L741.6,3768.7 L745.5,3755.4 L749.3,3742.1 L753.1,3728.8 L756.9,3715.5 L760.8,3702.3 L764.6,3689.2 L768.4,3676.1 L772.2,3663.2 L776.1,3650.4 L779.9,3637.7 L783.7,3625.1 L787.6,3612.7 L791.4,3600.5 L795.2,3588.4 L799.0,3576.4 L802.9,3564.6 L806.7,3552.9 L810.5,3541.4 L814.3,3530.0 L818.2,3518.8 L822.0,3507.7 L825.8,3496.7 L829.6,3485.9 L833.5,3475.3 L837.3,3464.8 L841.1,3454.4 L844.9,3444.2 L848.8,3434.0 L852.6,3424.0 L856.4,3414.2 L860.2,3404.4 L864.1,3394.8 L867.9,3385.2 L871.7,3375.8 L875.5,3366.5 L879.4,3357.3 L883.2,3348.1 L887.0,3339.1 L890.8,3330.2 L894.7,3321.3 L898.5,3312.5 L902.3,3303.8 L906.1,3295.2 L910.0,3286.7 L913.8,3278.2 L917.6,3269.9 L921.4,3261.6 L925.3,3253.4 L929.1,3245.3 L932.9,3237.2 L936.7,3229.3 L940.6,3221.4 L944.4,3213.7 L948.2,3206.0 L952.0,3198.4 L955.9,3190.9 L959.7,3183.5 L963.5,3176.2 L967.3,3169.0 L971.2,3161.8 L975.0,3154.8 L978.8,3147.8 L982.7,3141.0 L986.5,3134.2 L990.3,3127.6 L994.1,3121.0 L998.0,3114.6 L1001.8,3108.2 L1005.6,3101.9 L1009.4,3095.7 L1013.3,3089.7 L1017.1,3083.7 L1020.9,3077.8 L1024.7,3072.1 L1028.6,3066.4 L1032.4,3060.8 L1036.2,3055.4 L1040.0,3050.0 L1043.9,3044.8 L1047.7,3039.6 L1051.5,3034.5 L1055.3,3029.5 L1059.2,3024.5 L1063.0,3019.7 L1066.8,3014.9 L1070.6,3010.1 L1074.5,3005.4 L1078.3,3000.7 L1082.1,2996.1 L1085.9,2991.5 L1089.8,2986.9 L1093.6,2982.4 L1097.4,2977.9 L1101.2,2973.4 L1105.1,2968.9 L1108.9,2964.5 L1112.7,2960.0 L1116.5,2955.7 L1120.4,2951.3 L1124.2,2947.0 L1128.0,2942.8 L1131.8,2938.6 L1135.7,2934.5 L1139.5,2930.5 L1143.3,2926.5 L1147.1,2922.6 L1151.0,2918.8 L1154.8,2915.1 L1158.6,2911.4 L1162.5,2907.8 L1166.3,2904.3 L1170.1,2900.9 L1173.9,2897.5 L1177.8,2894.2 L1181.6,2890.8 L1185.4,2887.6 L1189.2,2884.3 L1193.1,2881.1 L1196.9,2877.8 L1200.7,2874.6 L1204.5,2871.4 L1208.4,2868.1 L1212.2,2864.8 L1216.0,2861.5 L1219.8,2858.2 L1223.7,2854.8 L1227.5,2851.4 L1231.3,2848.0 L1235.1,2844.6 L1239.0,2841.3 L1242.8,2837.9 L1246.6,2834.5 L1250.4,2831.2 L1254.3,2827.9 L1258.1,2824.7 L1261.9,2821.5 L1265.7,2818.4 L1269.6,2815.3 L1273.4,2812.3 L1277.2,2809.4 L1281.0,2806.6 L1284.9,2803.9 L1288.7,2801.2 L1292.5,2798.6 L1296.3,2796.0 L1300.2,2793.6 L1304.0,2791.2 L1307.8,2788.8 L1311.6,2786.6 L1315.5,2784.3 L1319.3,2782.2 L1323.1,2780.1 L1326.9,2778.1 L1330.8,2776.1 L1334.6,2774.1 L1338.4,2772.3 L1342.2,2770.4 L1346.1,2768.6 L1349.9,2766.9 L1353.7,2765.2 L1357.6,2763.6 L1361.4,2762.0 L1365.2,2760.4 L1369.0,2758.9 L1372.9,2757.4 L1376.7,2755.9 L1380.5,2754.5 L1384.3,2753.1 L1388.2,2751.7 L1392.0,2750.4 L1395.8,2749.1 L1399.6,2747.8 L1403.5,2746.5 L1407.3,2745.3 L1411.1,2744.0 L1414.9,2742.8 L1418.8,2741.7 L1422.6,2740.5 L1426.4,2739.3 L1430.2,2738.2 L1434.1,2737.0 L1437.9,2735.9 L1441.7,2734.8 L1445.5,2733.6 L1449.4,2732.5 L1453.2,2731.4 L1457.0,2730.3 L1460.8,2729.2 L1464.7,2728.1 L1468.5,2727.0 L1472.3,2725.9 L1476.1,2724.8 L1480.0,2723.7 L1483.8,2722.6 L1487.6,2721.5 L1491.4,2720.4 L1495.3,2719.3 L1499.1,2718.3 L1502.9,2717.2 L1506.7,2716.1 L1510.6,2715.1 L1514.4,2714.0 L1518.2,2713.0 L1522.0,2711.9 L1525.9,2710.9 L1529.7,2709.9 L1533.5,2708.9 L1537.3,2707.8 L1541.2,2706.8 L1545.0,2705.8 L1548.8,2704.9 L1552.7,2703.9 L1556.5,2702.9 L1560.3,2701.9 L1564.1,2701.0 L1568.0,2700.0 L1571.8,2699.1 L1575.6,2698.2 L1579.4,2697.3 L1583.3,2696.4 L1587.1,2695.5 L1590.9,2694.6 L1594.7,2693.7 L1598.6,2692.9 L1602.4,2692.0 L1606.2,2691.2 L1610.0,2690.3 L1613.9,2689.5 L1617.7,2688.7 L1621.5,2687.9 L1625.3,2687.1 L1629.2,2686.3 L1633.0,2685.5 L1636.8,2684.8 L1640.6,2684.0 L1644.5,2683.3 L1648.3,2682.5 L1652.1,2681.8 L1655.9,2681.1 L1659.8,2680.4 L1663.6,2679.7 L1667.4,2679.0 L1671.2,2678.3 L1675.1,2677.6 L1678.9,2677.0 L1682.7,2676.3 L1686.5,2675.7 L1690.4,2675.0 L1694.2,2674.4 L1698.0,2673.8 L1701.8,2673.1 L1705.7,2672.5 L1709.5,2671.9 L1713.3,2671.3 L1717.1,2670.8 L1721.0,2670.2 L1724.8,2669.6 L1728.6,2669.0 L1732.5,2668.5 L1736.3,2668.0 L1740.1,2667.4 L1743.9,2666.9 L1747.8,2666.4 L1751.6,2665.8 L1755.4,2665.3 L1759.2,2664.8 L1763.1,2664.3 L1766.9,2663.8 L1770.7,2663.4 L1774.5,2662.9 L1778.4,2662.4 L1782.2,2662.0 L1786.0,2661.5 L1789.8,2661.0 L1793.7,2660.6 L1797.5,2660.2 L1801.3,2659.7 L1805.1,2659.3 L1809.0,2658.9 L1812.8,2658.5 L1816.6,2658.1 L1820.4,2657.7 L1824.3,2657.3 L1828.1,2656.9 L1831.9,2656.5 L1835.7,2656.1 L1839.6,2655.8 L1843.4,2655.4 L1847.2,2655.0 L1851.0,2654.7 L1854.9,2654.3 L1858.7,2654.0 L1862.5,2653.6 L1866.3,2653.3 L1870.2,2652.9 L1874.0,2652.6 L1877.8,2652.3 L1881.6,2652.0 L1885.5,2651.7 L1889.3,2651.3 L1893.1,2651.0 L1896.9,2650.7 L1900.8,2650.4 L1904.6,2650.1 L1908.4,2649.9 L1912.2,2649.6 L1916.1,2649.3 L1919.9,2649.0 L1923.7,2648.7 L1927.6,2648.5 L1931.4,2648.2 L1935.2,2647.9 L1939.0,2647.7 L1942.9,2647.4 L1946.7,2647.2 L1950.5,2646.9 L1954.3,2646.7 L1958.2,2646.4 L1962.0,2646.2 L1965.8,2645.9 L1969.6,2645.7 L1973.5,2645.5 L1977.3,2645.2 L1981.1,2645.0 L1984.9,2644.8 L1988.8,2644.5 L1992.6,2644.3 L1996.4,2644.1 L2000.2,2643.9 L2004.1,2643.7 L2007.9,2643.5 L2011.7,2643.2 L2015.5,2643.0 L2019.4,2642.8 L2023.2,2642.6 L2027.0,2642.4 L2030.8,2642.2 L2034.7,2642.0 L2038.5,2641.8 L2042.3,2641.6 L2046.1,2641.4 L2050.0,2641.2 L2053.8,2641.0 L2057.6,2640.8 L2061.4,2640.6 L2065.3,2640.4 L2069.1,2640.2 L2072.9,2640.0 L2076.7,2639.8 L2080.6,2639.7 L2084.4,2639.5 L2088.2,2639.3 L2092.0,2639.1 L2095.9,2638.9 L2099.7,2638.7 L2103.5,2638.5 L2107.3,2638.3 L2111.2,2638.1 L2115.0,2637.9" fill="none" stroke="#FF00FF" stroke-width="3.8" stroke-dasharray="33.44 8.36" stroke-linejoin="round"/>
<g fill="none" stroke="#000" stroke-width="4.18" stroke-linecap="square" shape-rendering="crispEdges"><rect x="430.9" y="2567.3" width="1808.3" height="1567.8"/><path d="M391,4076.6 L430.9,4076.6"/><path d="M391,3786.4 L430.9,3786.4"/><path d="M391,3496.2 L430.9,3496.2"/><path d="M391,3206.0 L430.9,3206.0"/><path d="M391,2915.8 L430.9,2915.8"/><path d="M391,2625.6 L430.9,2625.6"/><path d="M584.8,4135.1 L584.8,4174.6"/><path d="M968.0,4135.1 L968.0,4174.6"/><path d="M1347.2,4135.1 L1347.2,4174.6"/><path d="M1730.8,4135.1 L1730.8,4174.6"/><path d="M2115.0,4135.1 L2115.0,4174.6"/></g>
<g font-family="Liberation Sans, Arial, sans-serif" font-size="66" fill="#000"><text transform="translate(337,4076.6) rotate(-90) scale(1,1.07)" text-anchor="middle">0.0</text><text transform="translate(337,3786.4) rotate(-90) scale(1,1.07)" text-anchor="middle">0.2</text><text transform="translate(337,3496.2) rotate(-90) scale(1,1.07)" text-anchor="middle">0.4</text><text transform="translate(337,3206.0) rotate(-90) scale(1,1.07)" text-anchor="middle">0.6</text><text transform="translate(337,2915.8) rotate(-90) scale(1,1.07)" text-anchor="middle">0.8</text><text transform="translate(337,2625.6) rotate(-90) scale(1,1.07)" text-anchor="middle">1.0</text><text transform="translate(580.3,4279) scale(1,1.07)" text-anchor="middle">0</text><text transform="translate(966.0,4279) scale(1,1.07)" text-anchor="middle">10</text><text transform="translate(1345.2,4279) scale(1,1.07)" text-anchor="middle">20</text><text transform="translate(1728.8,4279) scale(1,1.07)" text-anchor="middle">30</text><text transform="translate(2113.0,4279) scale(1,1.07)" text-anchor="middle">40</text><text transform="translate(1331,4440) scale(1,1.07)" text-anchor="middle">x</text><text transform="translate(180,3348) rotate(-90) scale(1,1.07)" text-anchor="middle">cdf</text></g>
<path d="M615.8,2675 L695,2675" stroke="#FF0000" stroke-width="4.18" fill="none" shape-rendering="crispEdges"/><text transform="translate(723,2694.0) scale(1,1.1)" font-family="Liberation Sans, Arial, sans-serif" font-size="37" fill="#000">GME</text><path d="M615.8,2720.7 L695,2720.7" stroke="#000000" stroke-width="4.18" stroke-dasharray="20.90 12.54" fill="none" shape-rendering="crispEdges"/><text transform="translate(723,2739.7) scale(1,1.1)" font-family="Liberation Sans, Arial, sans-serif" font-size="37" fill="#000">E</text><path d="M615.8,2770.7 L695,2770.7" stroke="#00CD00" stroke-width="4.18" stroke-dasharray="8.36 8.36" fill="none" shape-rendering="crispEdges"/><text transform="translate(723,2789.7) scale(1,1.1)" font-family="Liberation Sans, Arial, sans-serif" font-size="37" fill="#000">WED</text><path d="M615.8,2816.8 L695,2816.8" stroke="#00FFFF" stroke-width="4.18" stroke-dasharray="8.36 8.36 20.90 8.36" fill="none" shape-rendering="crispEdges"/><text transform="translate(723,2835.8) scale(1,1.1)" font-family="Liberation Sans, Arial, sans-serif" font-size="37" fill="#000">GExtEW</text><path d="M615.8,2866.8 L695,2866.8" stroke="#FF00FF" stroke-width="4.18" stroke-dasharray="33.44 8.36" fill="none" shape-rendering="crispEdges"/><text transform="translate(723,2885.8) scale(1,1.1)" font-family="Liberation Sans, Arial, sans-serif" font-size="37" fill="#000">GWE</text>
</svg>
</body></html>
